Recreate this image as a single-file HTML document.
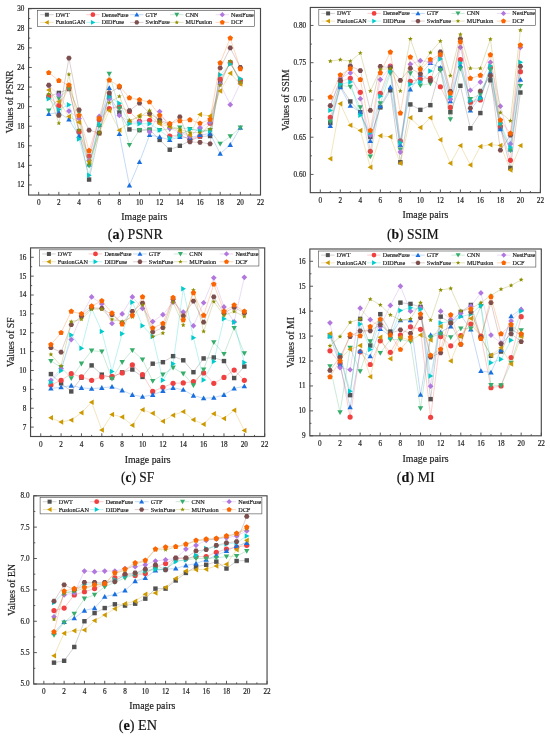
<!DOCTYPE html>
<html><head><meta charset="utf-8"><title>Figure</title>
<style>html,body{margin:0;padding:0;background:#fff}svg{display:block}text{font-family:"Liberation Serif", serif;stroke:#222;stroke-width:0.18px}</style>
</head><body>
<svg width="550" height="738" viewBox="0 0 550 738">
<rect width="550" height="738" fill="#fff"/>
<g id="chart-a"><polyline fill="none" stroke="#515151" stroke-width="0.45" stroke-opacity="0.58" points="48.77,96.35 58.85,92.92 68.93,89.01 79.01,131.10 89.10,179.57 99.18,133.06 109.26,95.86 119.34,112.50 129.43,129.44 139.51,130.13 149.59,129.64 159.67,139.92 169.76,149.71 179.84,145.79 189.92,140.89 200.00,136.49 210.09,136.00 220.17,81.67 230.25,62.58 240.33,81.67"/>
<rect x="46.56" y="94.14" width="4.42" height="4.42" fill="#515151"/>
<rect x="56.64" y="90.71" width="4.42" height="4.42" fill="#515151"/>
<rect x="66.72" y="86.80" width="4.42" height="4.42" fill="#515151"/>
<rect x="76.80" y="128.89" width="4.42" height="4.42" fill="#515151"/>
<rect x="86.89" y="177.36" width="4.42" height="4.42" fill="#515151"/>
<rect x="96.97" y="130.85" width="4.42" height="4.42" fill="#515151"/>
<rect x="107.05" y="93.65" width="4.42" height="4.42" fill="#515151"/>
<rect x="117.13" y="110.29" width="4.42" height="4.42" fill="#515151"/>
<rect x="127.22" y="127.23" width="4.42" height="4.42" fill="#515151"/>
<rect x="137.30" y="127.92" width="4.42" height="4.42" fill="#515151"/>
<rect x="147.38" y="127.43" width="4.42" height="4.42" fill="#515151"/>
<rect x="157.46" y="137.71" width="4.42" height="4.42" fill="#515151"/>
<rect x="167.55" y="147.50" width="4.42" height="4.42" fill="#515151"/>
<rect x="177.63" y="143.58" width="4.42" height="4.42" fill="#515151"/>
<rect x="187.71" y="138.68" width="4.42" height="4.42" fill="#515151"/>
<rect x="197.79" y="134.28" width="4.42" height="4.42" fill="#515151"/>
<rect x="207.88" y="133.79" width="4.42" height="4.42" fill="#515151"/>
<rect x="217.96" y="79.46" width="4.42" height="4.42" fill="#515151"/>
<rect x="228.04" y="60.37" width="4.42" height="4.42" fill="#515151"/>
<rect x="238.12" y="79.46" width="4.42" height="4.42" fill="#515151"/>
<polyline fill="none" stroke="#F14040" stroke-width="0.45" stroke-opacity="0.58" points="48.77,96.84 58.85,105.65 68.93,88.03 79.01,132.08 89.10,156.07 99.18,119.85 109.26,108.59 119.34,106.63 129.43,111.52 139.51,121.31 149.59,120.34 159.67,122.29 169.76,136.00 179.84,135.02 189.92,139.43 200.00,136.00 210.09,123.27 220.17,79.22 230.25,62.87 240.33,80.20"/>
<circle cx="48.77" cy="96.84" r="2.60" fill="#F14040"/>
<circle cx="58.85" cy="105.65" r="2.60" fill="#F14040"/>
<circle cx="68.93" cy="88.03" r="2.60" fill="#F14040"/>
<circle cx="79.01" cy="132.08" r="2.60" fill="#F14040"/>
<circle cx="89.10" cy="156.07" r="2.60" fill="#F14040"/>
<circle cx="99.18" cy="119.85" r="2.60" fill="#F14040"/>
<circle cx="109.26" cy="108.59" r="2.60" fill="#F14040"/>
<circle cx="119.34" cy="106.63" r="2.60" fill="#F14040"/>
<circle cx="129.43" cy="111.52" r="2.60" fill="#F14040"/>
<circle cx="139.51" cy="121.31" r="2.60" fill="#F14040"/>
<circle cx="149.59" cy="120.34" r="2.60" fill="#F14040"/>
<circle cx="159.67" cy="122.29" r="2.60" fill="#F14040"/>
<circle cx="169.76" cy="136.00" r="2.60" fill="#F14040"/>
<circle cx="179.84" cy="135.02" r="2.60" fill="#F14040"/>
<circle cx="189.92" cy="139.43" r="2.60" fill="#F14040"/>
<circle cx="200.00" cy="136.00" r="2.60" fill="#F14040"/>
<circle cx="210.09" cy="123.27" r="2.60" fill="#F14040"/>
<circle cx="220.17" cy="79.22" r="2.60" fill="#F14040"/>
<circle cx="230.25" cy="62.87" r="2.60" fill="#F14040"/>
<circle cx="240.33" cy="80.20" r="2.60" fill="#F14040"/>
<polyline fill="none" stroke="#1A6FDF" stroke-width="0.45" stroke-opacity="0.58" points="48.77,113.97 58.85,112.50 68.93,119.36 79.01,136.00 89.10,164.39 99.18,124.74 109.26,88.03 119.34,134.04 129.43,185.44 139.51,161.94 149.59,135.02 159.67,136.98 169.76,139.92 179.84,136.98 189.92,137.96 200.00,135.02 210.09,133.55 220.17,153.62 230.25,144.81 240.33,127.68"/>
<polygon points="48.77,111.24 51.50,116.05 46.04,116.05" fill="#1A6FDF"/>
<polygon points="58.85,109.77 61.58,114.58 56.12,114.58" fill="#1A6FDF"/>
<polygon points="68.93,116.63 71.66,121.44 66.20,121.44" fill="#1A6FDF"/>
<polygon points="79.01,133.27 81.74,138.08 76.28,138.08" fill="#1A6FDF"/>
<polygon points="89.10,161.66 91.83,166.47 86.37,166.47" fill="#1A6FDF"/>
<polygon points="99.18,122.01 101.91,126.82 96.45,126.82" fill="#1A6FDF"/>
<polygon points="109.26,85.30 111.99,90.11 106.53,90.11" fill="#1A6FDF"/>
<polygon points="119.34,131.31 122.07,136.12 116.61,136.12" fill="#1A6FDF"/>
<polygon points="129.43,182.71 132.16,187.52 126.70,187.52" fill="#1A6FDF"/>
<polygon points="139.51,159.21 142.24,164.02 136.78,164.02" fill="#1A6FDF"/>
<polygon points="149.59,132.29 152.32,137.10 146.86,137.10" fill="#1A6FDF"/>
<polygon points="159.67,134.25 162.40,139.06 156.94,139.06" fill="#1A6FDF"/>
<polygon points="169.76,137.19 172.49,142.00 167.03,142.00" fill="#1A6FDF"/>
<polygon points="179.84,134.25 182.57,139.06 177.11,139.06" fill="#1A6FDF"/>
<polygon points="189.92,135.23 192.65,140.04 187.19,140.04" fill="#1A6FDF"/>
<polygon points="200.00,132.29 202.73,137.10 197.27,137.10" fill="#1A6FDF"/>
<polygon points="210.09,130.82 212.82,135.63 207.36,135.63" fill="#1A6FDF"/>
<polygon points="220.17,150.89 222.90,155.70 217.44,155.70" fill="#1A6FDF"/>
<polygon points="230.25,142.08 232.98,146.89 227.52,146.89" fill="#1A6FDF"/>
<polygon points="240.33,124.95 243.06,129.76 237.60,129.76" fill="#1A6FDF"/>
<polyline fill="none" stroke="#37AD6B" stroke-width="0.45" stroke-opacity="0.58" points="48.77,110.55 58.85,98.31 68.93,88.52 79.01,112.50 89.10,165.86 99.18,125.72 109.26,73.74 119.34,108.59 129.43,145.10 139.51,130.13 149.59,130.13 159.67,130.13 169.76,129.15 179.84,127.68 189.92,129.15 200.00,130.13 210.09,130.13 220.17,143.83 230.25,136.39 240.33,127.68"/>
<polygon points="48.77,113.28 51.50,108.47 46.04,108.47" fill="#37AD6B"/>
<polygon points="58.85,101.04 61.58,96.23 56.12,96.23" fill="#37AD6B"/>
<polygon points="68.93,91.25 71.66,86.44 66.20,86.44" fill="#37AD6B"/>
<polygon points="79.01,115.23 81.74,110.42 76.28,110.42" fill="#37AD6B"/>
<polygon points="89.10,168.59 91.83,163.78 86.37,163.78" fill="#37AD6B"/>
<polygon points="99.18,128.45 101.91,123.64 96.45,123.64" fill="#37AD6B"/>
<polygon points="109.26,76.47 111.99,71.66 106.53,71.66" fill="#37AD6B"/>
<polygon points="119.34,111.32 122.07,106.51 116.61,106.51" fill="#37AD6B"/>
<polygon points="129.43,147.83 132.16,143.02 126.70,143.02" fill="#37AD6B"/>
<polygon points="139.51,132.86 142.24,128.05 136.78,128.05" fill="#37AD6B"/>
<polygon points="149.59,132.86 152.32,128.05 146.86,128.05" fill="#37AD6B"/>
<polygon points="159.67,132.86 162.40,128.05 156.94,128.05" fill="#37AD6B"/>
<polygon points="169.76,131.88 172.49,127.07 167.03,127.07" fill="#37AD6B"/>
<polygon points="179.84,130.41 182.57,125.60 177.11,125.60" fill="#37AD6B"/>
<polygon points="189.92,131.88 192.65,127.07 187.19,127.07" fill="#37AD6B"/>
<polygon points="200.00,132.86 202.73,128.05 197.27,128.05" fill="#37AD6B"/>
<polygon points="210.09,132.86 212.82,128.05 207.36,128.05" fill="#37AD6B"/>
<polygon points="220.17,146.56 222.90,141.75 217.44,141.75" fill="#37AD6B"/>
<polygon points="230.25,139.12 232.98,134.31 227.52,134.31" fill="#37AD6B"/>
<polygon points="240.33,130.41 243.06,125.60 237.60,125.60" fill="#37AD6B"/>
<polyline fill="none" stroke="#B177DE" stroke-width="0.45" stroke-opacity="0.58" points="48.77,85.58 58.85,94.88 68.93,111.04 79.01,118.38 89.10,160.47 99.18,116.42 109.26,98.80 119.34,115.44 129.43,121.80 139.51,122.29 149.59,132.08 159.67,111.52 169.76,128.17 179.84,132.57 189.92,136.49 200.00,127.68 210.09,122.29 220.17,84.11 230.25,104.67 240.33,83.13"/>
<polygon points="48.77,82.72 51.63,85.58 48.77,88.44 45.91,85.58" fill="#B177DE"/>
<polygon points="58.85,92.02 61.71,94.88 58.85,97.74 55.99,94.88" fill="#B177DE"/>
<polygon points="68.93,108.18 71.79,111.04 68.93,113.90 66.07,111.04" fill="#B177DE"/>
<polygon points="79.01,115.52 81.87,118.38 79.01,121.24 76.15,118.38" fill="#B177DE"/>
<polygon points="89.10,157.61 91.96,160.47 89.10,163.34 86.24,160.47" fill="#B177DE"/>
<polygon points="99.18,113.56 102.04,116.42 99.18,119.28 96.32,116.42" fill="#B177DE"/>
<polygon points="109.26,95.94 112.12,98.80 109.26,101.66 106.40,98.80" fill="#B177DE"/>
<polygon points="119.34,112.58 122.20,115.44 119.34,118.30 116.48,115.44" fill="#B177DE"/>
<polygon points="129.43,118.94 132.29,121.80 129.43,124.66 126.57,121.80" fill="#B177DE"/>
<polygon points="139.51,119.43 142.37,122.29 139.51,125.15 136.65,122.29" fill="#B177DE"/>
<polygon points="149.59,129.22 152.45,132.08 149.59,134.94 146.73,132.08" fill="#B177DE"/>
<polygon points="159.67,108.66 162.53,111.52 159.67,114.38 156.81,111.52" fill="#B177DE"/>
<polygon points="169.76,125.31 172.62,128.17 169.76,131.03 166.90,128.17" fill="#B177DE"/>
<polygon points="179.84,129.71 182.70,132.57 179.84,135.43 176.98,132.57" fill="#B177DE"/>
<polygon points="189.92,133.63 192.78,136.49 189.92,139.35 187.06,136.49" fill="#B177DE"/>
<polygon points="200.00,124.82 202.86,127.68 200.00,130.54 197.14,127.68" fill="#B177DE"/>
<polygon points="210.09,119.43 212.95,122.29 210.09,125.15 207.23,122.29" fill="#B177DE"/>
<polygon points="220.17,81.25 223.03,84.11 220.17,86.97 217.31,84.11" fill="#B177DE"/>
<polygon points="230.25,101.81 233.11,104.67 230.25,107.53 227.39,104.67" fill="#B177DE"/>
<polygon points="240.33,80.27 243.19,83.13 240.33,85.99 237.47,83.13" fill="#B177DE"/>
<polyline fill="none" stroke="#CC9900" stroke-width="0.45" stroke-opacity="0.58" points="48.77,89.99 58.85,101.73 68.93,116.42 79.01,122.29 89.10,161.45 99.18,133.06 109.26,110.55 119.34,130.13 129.43,122.29 139.51,115.44 149.59,115.44 159.67,123.76 169.76,126.70 179.84,131.10 189.92,135.02 200.00,114.46 210.09,115.93 220.17,90.97 230.25,73.34 240.33,84.11"/>
<polygon points="46.04,89.99 50.85,87.26 50.85,92.72" fill="#CC9900"/>
<polygon points="56.12,101.73 60.93,99.00 60.93,104.47" fill="#CC9900"/>
<polygon points="66.20,116.42 71.01,113.69 71.01,119.15" fill="#CC9900"/>
<polygon points="76.28,122.29 81.09,119.56 81.09,125.02" fill="#CC9900"/>
<polygon points="86.37,161.45 91.18,158.72 91.18,164.18" fill="#CC9900"/>
<polygon points="96.45,133.06 101.26,130.33 101.26,135.79" fill="#CC9900"/>
<polygon points="106.53,110.55 111.34,107.82 111.34,113.28" fill="#CC9900"/>
<polygon points="116.61,130.13 121.42,127.40 121.42,132.86" fill="#CC9900"/>
<polygon points="126.70,122.29 131.51,119.56 131.51,125.02" fill="#CC9900"/>
<polygon points="136.78,115.44 141.59,112.71 141.59,118.17" fill="#CC9900"/>
<polygon points="146.86,115.44 151.67,112.71 151.67,118.17" fill="#CC9900"/>
<polygon points="156.94,123.76 161.75,121.03 161.75,126.49" fill="#CC9900"/>
<polygon points="167.03,126.70 171.84,123.97 171.84,129.43" fill="#CC9900"/>
<polygon points="177.11,131.10 181.92,128.38 181.92,133.83" fill="#CC9900"/>
<polygon points="187.19,135.02 192.00,132.29 192.00,137.75" fill="#CC9900"/>
<polygon points="197.27,114.46 202.08,111.73 202.08,117.19" fill="#CC9900"/>
<polygon points="207.36,115.93 212.17,113.20 212.17,118.66" fill="#CC9900"/>
<polygon points="217.44,90.97 222.25,88.24 222.25,93.70" fill="#CC9900"/>
<polygon points="227.52,73.34 232.33,70.61 232.33,76.07" fill="#CC9900"/>
<polygon points="237.60,84.11 242.41,81.38 242.41,86.84" fill="#CC9900"/>
<polyline fill="none" stroke="#00CBCC" stroke-width="0.45" stroke-opacity="0.58" points="48.77,98.80 58.85,109.57 68.93,104.67 79.01,138.94 89.10,175.16 99.18,124.25 109.26,96.84 119.34,103.20 129.43,123.76 139.51,123.76 149.59,123.76 159.67,130.13 169.76,137.96 179.84,135.51 189.92,129.15 200.00,131.10 210.09,131.10 220.17,74.81 230.25,64.04 240.33,78.73"/>
<polygon points="51.50,98.80 46.69,96.07 46.69,101.53" fill="#00CBCC"/>
<polygon points="61.58,109.57 56.77,106.84 56.77,112.30" fill="#00CBCC"/>
<polygon points="71.66,104.67 66.85,101.94 66.85,107.40" fill="#00CBCC"/>
<polygon points="81.74,138.94 76.93,136.21 76.93,141.67" fill="#00CBCC"/>
<polygon points="91.83,175.16 87.02,172.43 87.02,177.89" fill="#00CBCC"/>
<polygon points="101.91,124.25 97.10,121.52 97.10,126.98" fill="#00CBCC"/>
<polygon points="111.99,96.84 107.18,94.11 107.18,99.57" fill="#00CBCC"/>
<polygon points="122.07,103.20 117.26,100.47 117.26,105.93" fill="#00CBCC"/>
<polygon points="132.16,123.76 127.35,121.03 127.35,126.49" fill="#00CBCC"/>
<polygon points="142.24,123.76 137.43,121.03 137.43,126.49" fill="#00CBCC"/>
<polygon points="152.32,123.76 147.51,121.03 147.51,126.49" fill="#00CBCC"/>
<polygon points="162.40,130.13 157.59,127.40 157.59,132.86" fill="#00CBCC"/>
<polygon points="172.49,137.96 167.68,135.23 167.68,140.69" fill="#00CBCC"/>
<polygon points="182.57,135.51 177.76,132.78 177.76,138.24" fill="#00CBCC"/>
<polygon points="192.65,129.15 187.84,126.42 187.84,131.88" fill="#00CBCC"/>
<polygon points="202.73,131.10 197.92,128.38 197.92,133.83" fill="#00CBCC"/>
<polygon points="212.82,131.10 208.01,128.38 208.01,133.83" fill="#00CBCC"/>
<polygon points="222.90,74.81 218.09,72.08 218.09,77.54" fill="#00CBCC"/>
<polygon points="232.98,64.04 228.17,61.31 228.17,66.77" fill="#00CBCC"/>
<polygon points="243.06,78.73 238.25,76.00 238.25,81.46" fill="#00CBCC"/>
<polyline fill="none" stroke="#7D4E4E" stroke-width="0.45" stroke-opacity="0.58" points="48.77,85.19 58.85,115.44 68.93,58.07 79.01,109.86 89.10,130.13 99.18,133.06 109.26,92.92 119.34,87.05 129.43,110.55 139.51,103.20 149.59,113.48 159.67,119.85 169.76,124.25 179.84,116.91 189.92,141.87 200.00,142.36 210.09,143.83 220.17,67.96 230.25,47.89 240.33,67.47"/>
<polygon points="51.50,85.19 50.13,87.55 47.40,87.55 46.04,85.19 47.40,82.83 50.13,82.83" fill="#7D4E4E"/>
<polygon points="61.58,115.44 60.21,117.81 57.48,117.81 56.12,115.44 57.48,113.08 60.21,113.08" fill="#7D4E4E"/>
<polygon points="71.66,58.07 70.30,60.44 67.57,60.44 66.20,58.07 67.57,55.71 70.30,55.71" fill="#7D4E4E"/>
<polygon points="81.74,109.86 80.38,112.22 77.65,112.22 76.28,109.86 77.65,107.50 80.38,107.50" fill="#7D4E4E"/>
<polygon points="91.83,130.13 90.46,132.49 87.73,132.49 86.37,130.13 87.73,127.76 90.46,127.76" fill="#7D4E4E"/>
<polygon points="101.91,133.06 100.54,135.43 97.81,135.43 96.45,133.06 97.81,130.70 100.54,130.70" fill="#7D4E4E"/>
<polygon points="111.99,92.92 110.63,95.29 107.90,95.29 106.53,92.92 107.90,90.56 110.63,90.56" fill="#7D4E4E"/>
<polygon points="122.07,87.05 120.71,89.41 117.98,89.41 116.61,87.05 117.98,84.69 120.71,84.69" fill="#7D4E4E"/>
<polygon points="132.16,110.55 130.79,112.91 128.06,112.91 126.70,110.55 128.06,108.18 130.79,108.18" fill="#7D4E4E"/>
<polygon points="142.24,103.20 140.87,105.57 138.14,105.57 136.78,103.20 138.14,100.84 140.87,100.84" fill="#7D4E4E"/>
<polygon points="152.32,113.48 150.96,115.85 148.23,115.85 146.86,113.48 148.23,111.12 150.96,111.12" fill="#7D4E4E"/>
<polygon points="162.40,119.85 161.04,122.21 158.31,122.21 156.94,119.85 158.31,117.48 161.04,117.48" fill="#7D4E4E"/>
<polygon points="172.49,124.25 171.12,126.62 168.39,126.62 167.03,124.25 168.39,121.89 171.12,121.89" fill="#7D4E4E"/>
<polygon points="182.57,116.91 181.20,119.27 178.47,119.27 177.11,116.91 178.47,114.55 181.20,114.55" fill="#7D4E4E"/>
<polygon points="192.65,141.87 191.29,144.24 188.56,144.24 187.19,141.87 188.56,139.51 191.29,139.51" fill="#7D4E4E"/>
<polygon points="202.73,142.36 201.37,144.73 198.64,144.73 197.27,142.36 198.64,140.00 201.37,140.00" fill="#7D4E4E"/>
<polygon points="212.82,143.83 211.45,146.20 208.72,146.20 207.36,143.83 208.72,141.47 211.45,141.47" fill="#7D4E4E"/>
<polygon points="222.90,67.96 221.53,70.32 218.80,70.32 217.44,67.96 218.80,65.60 221.53,65.60" fill="#7D4E4E"/>
<polygon points="232.98,47.89 231.62,50.25 228.89,50.25 227.52,47.89 228.89,45.53 231.62,45.53" fill="#7D4E4E"/>
<polygon points="243.06,67.47 241.70,69.83 238.97,69.83 237.60,67.47 238.97,65.11 241.70,65.11" fill="#7D4E4E"/>
<polyline fill="none" stroke="#8E8E00" stroke-width="0.45" stroke-opacity="0.58" points="48.77,93.90 58.85,123.27 68.93,74.32 79.01,130.13 89.10,163.41 99.18,132.57 109.26,102.71 119.34,96.35 129.43,120.34 139.51,116.91 149.59,110.55 159.67,121.31 169.76,125.72 179.84,129.44 189.92,132.57 200.00,132.57 210.09,129.15 220.17,85.09 230.25,61.11 240.33,82.16"/>
<polygon points="48.77,91.43 49.41,93.02 51.11,93.14 49.80,94.24 50.22,95.90 48.77,94.99 47.31,95.90 47.73,94.24 46.42,93.14 48.12,93.02" fill="#8E8E00"/>
<polygon points="58.85,120.80 59.49,122.39 61.20,122.51 59.89,123.61 60.30,125.27 58.85,124.36 57.40,125.27 57.81,123.61 56.50,122.51 58.21,122.39" fill="#8E8E00"/>
<polygon points="68.93,71.85 69.57,73.44 71.28,73.56 69.97,74.66 70.38,76.32 68.93,75.41 67.48,76.32 67.89,74.66 66.58,73.56 68.29,73.44" fill="#8E8E00"/>
<polygon points="79.01,127.66 79.65,129.24 81.36,129.36 80.05,130.46 80.46,132.12 79.01,131.22 77.56,132.12 77.97,130.46 76.66,129.36 78.37,129.24" fill="#8E8E00"/>
<polygon points="89.10,160.94 89.74,162.53 91.44,162.65 90.13,163.75 90.55,165.41 89.10,164.50 87.64,165.41 88.06,163.75 86.75,162.65 88.45,162.53" fill="#8E8E00"/>
<polygon points="99.18,130.10 99.82,131.69 101.53,131.81 100.22,132.91 100.63,134.57 99.18,133.67 97.73,134.57 98.14,132.91 96.83,131.81 98.54,131.69" fill="#8E8E00"/>
<polygon points="109.26,100.24 109.90,101.83 111.61,101.95 110.30,103.05 110.71,104.71 109.26,103.81 107.81,104.71 108.22,103.05 106.91,101.95 108.62,101.83" fill="#8E8E00"/>
<polygon points="119.34,93.88 119.99,95.47 121.69,95.59 120.38,96.69 120.80,98.35 119.34,97.44 117.89,98.35 118.30,96.69 116.99,95.59 118.70,95.47" fill="#8E8E00"/>
<polygon points="129.43,117.87 130.07,119.45 131.78,119.57 130.46,120.67 130.88,122.33 129.43,121.43 127.97,122.33 128.39,120.67 127.08,119.57 128.78,119.45" fill="#8E8E00"/>
<polygon points="139.51,114.44 140.15,116.03 141.86,116.15 140.55,117.25 140.96,118.91 139.51,118.00 138.06,118.91 138.47,117.25 137.16,116.15 138.87,116.03" fill="#8E8E00"/>
<polygon points="149.59,108.08 150.23,109.66 151.94,109.78 150.63,110.88 151.04,112.54 149.59,111.64 148.14,112.54 148.55,110.88 147.24,109.78 148.95,109.66" fill="#8E8E00"/>
<polygon points="159.67,118.84 160.32,120.43 162.02,120.55 160.71,121.65 161.13,123.31 159.67,122.41 158.22,123.31 158.64,121.65 157.32,120.55 159.03,120.43" fill="#8E8E00"/>
<polygon points="169.76,123.25 170.40,124.84 172.11,124.96 170.80,126.06 171.21,127.72 169.76,126.81 168.30,127.72 168.72,126.06 167.41,124.96 169.11,124.84" fill="#8E8E00"/>
<polygon points="179.84,126.97 180.48,128.56 182.19,128.68 180.88,129.78 181.29,131.44 179.84,130.53 178.39,131.44 178.80,129.78 177.49,128.68 179.20,128.56" fill="#8E8E00"/>
<polygon points="189.92,130.10 190.56,131.69 192.27,131.81 190.96,132.91 191.37,134.57 189.92,133.67 188.47,134.57 188.88,132.91 187.57,131.81 189.28,131.69" fill="#8E8E00"/>
<polygon points="200.00,130.10 200.65,131.69 202.35,131.81 201.04,132.91 201.46,134.57 200.00,133.67 198.55,134.57 198.97,132.91 197.66,131.81 199.36,131.69" fill="#8E8E00"/>
<polygon points="210.09,126.68 210.73,128.26 212.44,128.38 211.13,129.48 211.54,131.15 210.09,130.24 208.64,131.15 209.05,129.48 207.74,128.38 209.45,128.26" fill="#8E8E00"/>
<polygon points="220.17,82.62 220.81,84.21 222.52,84.33 221.21,85.43 221.62,87.09 220.17,86.18 218.72,87.09 219.13,85.43 217.82,84.33 219.53,84.21" fill="#8E8E00"/>
<polygon points="230.25,58.64 230.89,60.22 232.60,60.34 231.29,61.44 231.70,63.10 230.25,62.20 228.80,63.10 229.21,61.44 227.90,60.34 229.61,60.22" fill="#8E8E00"/>
<polygon points="240.33,79.69 240.98,81.27 242.68,81.39 241.37,82.49 241.79,84.15 240.33,83.25 238.88,84.15 239.30,82.49 237.99,81.39 239.69,81.27" fill="#8E8E00"/>
<polyline fill="none" stroke="#FB6501" stroke-width="0.45" stroke-opacity="0.58" points="48.77,72.76 58.85,80.59 68.93,85.09 79.01,115.44 89.10,150.69 99.18,118.38 109.26,80.20 119.34,86.07 129.43,97.82 139.51,99.78 149.59,102.03 159.67,115.44 169.76,123.66 179.84,120.83 189.92,119.85 200.00,123.27 210.09,119.36 220.17,62.87 230.25,38.10 240.33,68.94"/>
<polygon points="48.77,69.90 51.49,71.87 50.45,75.07 47.08,75.07 46.05,71.87" fill="#FB6501"/>
<polygon points="58.85,77.73 61.57,79.70 60.53,82.90 57.17,82.90 56.13,79.70" fill="#FB6501"/>
<polygon points="68.93,82.23 71.65,84.21 70.61,87.41 67.25,87.41 66.21,84.21" fill="#FB6501"/>
<polygon points="79.01,112.58 81.73,114.56 80.69,117.75 77.33,117.75 76.29,114.56" fill="#FB6501"/>
<polygon points="89.10,147.82 91.82,149.80 90.78,153.00 87.41,153.00 86.38,149.80" fill="#FB6501"/>
<polygon points="99.18,115.52 101.90,117.49 100.86,120.69 97.50,120.69 96.46,117.49" fill="#FB6501"/>
<polygon points="109.26,77.34 111.98,79.31 110.94,82.51 107.58,82.51 106.54,79.31" fill="#FB6501"/>
<polygon points="119.34,83.21 122.06,85.19 121.02,88.38 117.66,88.38 116.62,85.19" fill="#FB6501"/>
<polygon points="129.43,94.96 132.15,96.94 131.11,100.13 127.75,100.13 126.71,96.94" fill="#FB6501"/>
<polygon points="139.51,96.92 142.23,98.89 141.19,102.09 137.83,102.09 136.79,98.89" fill="#FB6501"/>
<polygon points="149.59,99.17 152.31,101.14 151.27,104.34 147.91,104.34 146.87,101.14" fill="#FB6501"/>
<polygon points="159.67,112.58 162.39,114.56 161.35,117.75 157.99,117.75 156.95,114.56" fill="#FB6501"/>
<polygon points="169.76,120.80 172.48,122.78 171.44,125.98 168.08,125.98 167.04,122.78" fill="#FB6501"/>
<polygon points="179.84,117.97 182.56,119.94 181.52,123.14 178.16,123.14 177.12,119.94" fill="#FB6501"/>
<polygon points="189.92,116.99 192.64,118.96 191.60,122.16 188.24,122.16 187.20,118.96" fill="#FB6501"/>
<polygon points="200.00,120.41 202.72,122.39 201.69,125.59 198.32,125.59 197.28,122.39" fill="#FB6501"/>
<polygon points="210.09,116.50 212.81,118.47 211.77,121.67 208.41,121.67 207.37,118.47" fill="#FB6501"/>
<polygon points="220.17,60.01 222.89,61.98 221.85,65.18 218.49,65.18 217.45,61.98" fill="#FB6501"/>
<polygon points="230.25,35.24 232.97,37.22 231.93,40.41 228.57,40.41 227.53,37.22" fill="#FB6501"/>
<polygon points="240.33,66.08 243.05,68.05 242.02,71.25 238.65,71.25 237.61,68.05" fill="#FB6501"/>
<rect x="28.60" y="8.50" width="231.90" height="186.55" fill="none" stroke="#484848" stroke-width="1.15"/>
<path d="M38.68 195.05V191.85M58.85 195.05V191.85M79.01 195.05V191.85M99.18 195.05V191.85M119.34 195.05V191.85M139.51 195.05V191.85M159.67 195.05V191.85M179.84 195.05V191.85M200.00 195.05V191.85M220.17 195.05V191.85M240.33 195.05V191.85M260.50 195.05V191.85M48.77 195.05V193.45M68.93 195.05V193.45M89.10 195.05V193.45M109.26 195.05V193.45M129.43 195.05V193.45M149.59 195.05V193.45M169.76 195.05V193.45M189.92 195.05V193.45M210.09 195.05V193.45M230.25 195.05V193.45M250.42 195.05V193.45M28.60 184.95H31.80M28.60 165.37H31.80M28.60 145.79H31.80M28.60 126.21H31.80M28.60 106.63H31.80M28.60 87.05H31.80M28.60 67.47H31.80M28.60 47.89H31.80M28.60 28.31H31.80M28.60 8.73H31.80M28.60 175.16H30.20M28.60 155.58H30.20M28.60 136.00H30.20M28.60 116.42H30.20M28.60 96.84H30.20M28.60 77.26H30.20M28.60 57.68H30.20M28.60 38.10H30.20M28.60 18.52H30.20" stroke="#484848" stroke-width="0.9" fill="none"/>
<text x="38.68" y="205.05" text-anchor="middle" font-size="7.2" stroke-width="0.05" fill="#1a1a1a">0</text>
<text x="58.85" y="205.05" text-anchor="middle" font-size="7.2" stroke-width="0.05" fill="#1a1a1a">2</text>
<text x="79.01" y="205.05" text-anchor="middle" font-size="7.2" stroke-width="0.05" fill="#1a1a1a">4</text>
<text x="99.18" y="205.05" text-anchor="middle" font-size="7.2" stroke-width="0.05" fill="#1a1a1a">6</text>
<text x="119.34" y="205.05" text-anchor="middle" font-size="7.2" stroke-width="0.05" fill="#1a1a1a">8</text>
<text x="139.51" y="205.05" text-anchor="middle" font-size="7.2" stroke-width="0.05" fill="#1a1a1a">10</text>
<text x="159.67" y="205.05" text-anchor="middle" font-size="7.2" stroke-width="0.05" fill="#1a1a1a">12</text>
<text x="179.84" y="205.05" text-anchor="middle" font-size="7.2" stroke-width="0.05" fill="#1a1a1a">14</text>
<text x="200.00" y="205.05" text-anchor="middle" font-size="7.2" stroke-width="0.05" fill="#1a1a1a">16</text>
<text x="220.17" y="205.05" text-anchor="middle" font-size="7.2" stroke-width="0.05" fill="#1a1a1a">18</text>
<text x="240.33" y="205.05" text-anchor="middle" font-size="7.2" stroke-width="0.05" fill="#1a1a1a">20</text>
<text x="260.50" y="205.05" text-anchor="middle" font-size="7.2" stroke-width="0.05" fill="#1a1a1a">22</text>
<text x="24.40" y="187.40" text-anchor="end" font-size="7.2" stroke-width="0.05" fill="#1a1a1a">12</text>
<text x="24.40" y="167.82" text-anchor="end" font-size="7.2" stroke-width="0.05" fill="#1a1a1a">14</text>
<text x="24.40" y="148.24" text-anchor="end" font-size="7.2" stroke-width="0.05" fill="#1a1a1a">16</text>
<text x="24.40" y="128.66" text-anchor="end" font-size="7.2" stroke-width="0.05" fill="#1a1a1a">18</text>
<text x="24.40" y="109.08" text-anchor="end" font-size="7.2" stroke-width="0.05" fill="#1a1a1a">20</text>
<text x="24.40" y="89.50" text-anchor="end" font-size="7.2" stroke-width="0.05" fill="#1a1a1a">22</text>
<text x="24.40" y="69.92" text-anchor="end" font-size="7.2" stroke-width="0.05" fill="#1a1a1a">24</text>
<text x="24.40" y="50.34" text-anchor="end" font-size="7.2" stroke-width="0.05" fill="#1a1a1a">26</text>
<text x="24.40" y="30.76" text-anchor="end" font-size="7.2" stroke-width="0.05" fill="#1a1a1a">28</text>
<text x="24.40" y="11.18" text-anchor="end" font-size="7.2" stroke-width="0.05" fill="#1a1a1a">30</text>
<text x="144.25" y="220.35" text-anchor="middle" font-size="9.8" fill="#1a1a1a">Image pairs</text>
<text transform="translate(12.90 101.78) rotate(-90)" text-anchor="middle" font-size="9.7" fill="#1a1a1a">Values of PSNR</text>
<rect x="37.60" y="10.60" width="216.70" height="16.00" fill="#fff" stroke="#484848" stroke-width="0.6"/>
<line x1="40.20" y1="14.70" x2="53.60" y2="14.70" stroke="#515151" stroke-width="0.45" stroke-opacity="0.58"/>
<rect x="44.90" y="12.70" width="4.00" height="4.00" fill="#515151"/>
<text x="55.70" y="16.75" font-size="6.10" fill="#1a1a1a">DWT</text>
<line x1="86.20" y1="14.70" x2="99.60" y2="14.70" stroke="#F14040" stroke-width="0.45" stroke-opacity="0.58"/>
<circle cx="92.90" cy="14.70" r="2.35" fill="#F14040"/>
<text x="101.70" y="16.75" font-size="6.10" fill="#1a1a1a">DenseFuse</text>
<line x1="130.10" y1="14.70" x2="143.50" y2="14.70" stroke="#1A6FDF" stroke-width="0.45" stroke-opacity="0.58"/>
<polygon points="136.80,12.23 139.27,16.58 134.33,16.58" fill="#1A6FDF"/>
<text x="145.60" y="16.75" font-size="6.10" fill="#1a1a1a">GTF</text>
<line x1="170.10" y1="14.70" x2="183.50" y2="14.70" stroke="#37AD6B" stroke-width="0.45" stroke-opacity="0.58"/>
<polygon points="176.80,17.17 179.27,12.82 174.33,12.82" fill="#37AD6B"/>
<text x="185.60" y="16.75" font-size="6.10" fill="#1a1a1a">CNN</text>
<line x1="215.60" y1="14.70" x2="229.00" y2="14.70" stroke="#B177DE" stroke-width="0.45" stroke-opacity="0.58"/>
<polygon points="222.30,12.11 224.88,14.70 222.30,17.29 219.71,14.70" fill="#B177DE"/>
<text x="231.10" y="16.75" font-size="6.10" fill="#1a1a1a">NestFuse</text>
<line x1="40.20" y1="22.40" x2="53.60" y2="22.40" stroke="#CC9900" stroke-width="0.45" stroke-opacity="0.58"/>
<polygon points="44.43,22.40 48.78,19.93 48.78,24.87" fill="#CC9900"/>
<text x="55.70" y="24.45" font-size="6.10" fill="#1a1a1a">FusionGAN</text>
<line x1="86.20" y1="22.40" x2="99.60" y2="22.40" stroke="#00CBCC" stroke-width="0.45" stroke-opacity="0.58"/>
<polygon points="95.37,22.40 91.02,19.93 91.02,24.87" fill="#00CBCC"/>
<text x="101.70" y="24.45" font-size="6.10" fill="#1a1a1a">DIDFuse</text>
<line x1="130.10" y1="22.40" x2="143.50" y2="22.40" stroke="#7D4E4E" stroke-width="0.45" stroke-opacity="0.58"/>
<polygon points="139.27,22.40 138.03,24.54 135.57,24.54 134.33,22.40 135.57,20.26 138.03,20.26" fill="#7D4E4E"/>
<text x="145.60" y="24.45" font-size="6.10" fill="#1a1a1a">SwinFuse</text>
<line x1="170.10" y1="22.40" x2="183.50" y2="22.40" stroke="#8E8E00" stroke-width="0.45" stroke-opacity="0.58"/>
<polygon points="176.80,20.17 177.38,21.60 178.92,21.71 177.74,22.70 178.11,24.21 176.80,23.39 175.49,24.21 175.86,22.70 174.68,21.71 176.22,21.60" fill="#8E8E00"/>
<text x="185.60" y="24.45" font-size="6.10" fill="#1a1a1a">MUFusion</text>
<line x1="215.60" y1="22.40" x2="229.00" y2="22.40" stroke="#FB6501" stroke-width="0.45" stroke-opacity="0.58"/>
<polygon points="222.30,19.81 224.76,21.60 223.82,24.49 220.78,24.49 219.84,21.60" fill="#FB6501"/>
<text x="231.10" y="24.45" font-size="6.10" fill="#1a1a1a">DCF</text>
<text x="107.70" y="239.00" font-size="14.3" fill="#111" stroke-width="0.1" textLength="55.1" lengthAdjust="spacingAndGlyphs">(<tspan font-weight="bold">a</tspan>) PSNR</text></g>
<g id="chart-b"><polyline fill="none" stroke="#515151" stroke-width="0.45" stroke-opacity="0.58" points="330.31,123.04 340.31,86.02 350.32,101.44 360.32,112.17 370.33,136.83 380.33,107.40 390.33,90.27 400.34,162.23 410.34,104.42 420.35,109.86 430.35,105.17 440.36,68.66 450.36,112.17 460.37,85.79 470.37,128.26 480.37,113.06 490.38,80.28 500.38,127.51 510.39,167.97 520.39,92.50"/>
<rect x="328.10" y="120.83" width="4.42" height="4.42" fill="#515151"/>
<rect x="338.10" y="83.81" width="4.42" height="4.42" fill="#515151"/>
<rect x="348.11" y="99.23" width="4.42" height="4.42" fill="#515151"/>
<rect x="358.11" y="109.96" width="4.42" height="4.42" fill="#515151"/>
<rect x="368.12" y="134.62" width="4.42" height="4.42" fill="#515151"/>
<rect x="378.12" y="105.19" width="4.42" height="4.42" fill="#515151"/>
<rect x="388.12" y="88.06" width="4.42" height="4.42" fill="#515151"/>
<rect x="398.13" y="160.02" width="4.42" height="4.42" fill="#515151"/>
<rect x="408.13" y="102.21" width="4.42" height="4.42" fill="#515151"/>
<rect x="418.14" y="107.65" width="4.42" height="4.42" fill="#515151"/>
<rect x="428.14" y="102.96" width="4.42" height="4.42" fill="#515151"/>
<rect x="438.15" y="66.45" width="4.42" height="4.42" fill="#515151"/>
<rect x="448.15" y="109.96" width="4.42" height="4.42" fill="#515151"/>
<rect x="458.16" y="83.58" width="4.42" height="4.42" fill="#515151"/>
<rect x="468.16" y="126.05" width="4.42" height="4.42" fill="#515151"/>
<rect x="478.16" y="110.85" width="4.42" height="4.42" fill="#515151"/>
<rect x="488.17" y="78.07" width="4.42" height="4.42" fill="#515151"/>
<rect x="498.17" y="125.30" width="4.42" height="4.42" fill="#515151"/>
<rect x="508.18" y="165.76" width="4.42" height="4.42" fill="#515151"/>
<rect x="518.18" y="90.29" width="4.42" height="4.42" fill="#515151"/>
<polyline fill="none" stroke="#F14040" stroke-width="0.45" stroke-opacity="0.58" points="330.31,117.23 340.31,81.32 350.32,78.34 360.32,92.28 370.33,151.35 380.33,93.47 390.33,65.98 400.34,140.92 410.34,81.32 420.35,79.09 430.35,78.34 440.36,86.76 450.36,107.40 460.37,59.72 470.37,102.19 480.37,99.95 490.38,67.62 500.38,126.47 510.39,160.29 520.39,71.64"/>
<circle cx="330.31" cy="117.23" r="2.60" fill="#F14040"/>
<circle cx="340.31" cy="81.32" r="2.60" fill="#F14040"/>
<circle cx="350.32" cy="78.34" r="2.60" fill="#F14040"/>
<circle cx="360.32" cy="92.28" r="2.60" fill="#F14040"/>
<circle cx="370.33" cy="151.35" r="2.60" fill="#F14040"/>
<circle cx="380.33" cy="93.47" r="2.60" fill="#F14040"/>
<circle cx="390.33" cy="65.98" r="2.60" fill="#F14040"/>
<circle cx="400.34" cy="140.92" r="2.60" fill="#F14040"/>
<circle cx="410.34" cy="81.32" r="2.60" fill="#F14040"/>
<circle cx="420.35" cy="79.09" r="2.60" fill="#F14040"/>
<circle cx="430.35" cy="78.34" r="2.60" fill="#F14040"/>
<circle cx="440.36" cy="86.76" r="2.60" fill="#F14040"/>
<circle cx="450.36" cy="107.40" r="2.60" fill="#F14040"/>
<circle cx="460.37" cy="59.72" r="2.60" fill="#F14040"/>
<circle cx="470.37" cy="102.19" r="2.60" fill="#F14040"/>
<circle cx="480.37" cy="99.95" r="2.60" fill="#F14040"/>
<circle cx="490.38" cy="67.62" r="2.60" fill="#F14040"/>
<circle cx="500.38" cy="126.47" r="2.60" fill="#F14040"/>
<circle cx="510.39" cy="160.29" r="2.60" fill="#F14040"/>
<circle cx="520.39" cy="71.64" r="2.60" fill="#F14040"/>
<polyline fill="none" stroke="#1A6FDF" stroke-width="0.45" stroke-opacity="0.58" points="330.31,126.02 340.31,87.28 350.32,105.69 360.32,112.17 370.33,140.92 380.33,106.13 390.33,87.28 400.34,144.95 410.34,89.52 420.35,74.62 430.35,63.00 440.36,67.62 450.36,101.07 460.37,65.31 470.37,110.38 480.37,96.45 490.38,72.38 500.38,129.23 510.39,149.49 520.39,79.61"/>
<polygon points="330.31,123.29 333.04,128.10 327.58,128.10" fill="#1A6FDF"/>
<polygon points="340.31,84.55 343.04,89.36 337.58,89.36" fill="#1A6FDF"/>
<polygon points="350.32,102.96 353.05,107.77 347.59,107.77" fill="#1A6FDF"/>
<polygon points="360.32,109.44 363.05,114.25 357.59,114.25" fill="#1A6FDF"/>
<polygon points="370.33,138.19 373.06,143.00 367.60,143.00" fill="#1A6FDF"/>
<polygon points="380.33,103.40 383.06,108.21 377.60,108.21" fill="#1A6FDF"/>
<polygon points="390.33,84.55 393.06,89.36 387.60,89.36" fill="#1A6FDF"/>
<polygon points="400.34,142.22 403.07,147.03 397.61,147.03" fill="#1A6FDF"/>
<polygon points="410.34,86.79 413.07,91.60 407.61,91.60" fill="#1A6FDF"/>
<polygon points="420.35,71.89 423.08,76.70 417.62,76.70" fill="#1A6FDF"/>
<polygon points="430.35,60.27 433.08,65.08 427.62,65.08" fill="#1A6FDF"/>
<polygon points="440.36,64.89 443.09,69.70 437.63,69.70" fill="#1A6FDF"/>
<polygon points="450.36,98.34 453.09,103.15 447.63,103.15" fill="#1A6FDF"/>
<polygon points="460.37,62.58 463.10,67.39 457.64,67.39" fill="#1A6FDF"/>
<polygon points="470.37,107.65 473.10,112.46 467.64,112.46" fill="#1A6FDF"/>
<polygon points="480.37,93.72 483.10,98.53 477.64,98.53" fill="#1A6FDF"/>
<polygon points="490.38,69.65 493.11,74.46 487.65,74.46" fill="#1A6FDF"/>
<polygon points="500.38,126.50 503.11,131.31 497.65,131.31" fill="#1A6FDF"/>
<polygon points="510.39,146.76 513.12,151.57 507.66,151.57" fill="#1A6FDF"/>
<polygon points="520.39,76.88 523.12,81.69 517.66,81.69" fill="#1A6FDF"/>
<polyline fill="none" stroke="#37AD6B" stroke-width="0.45" stroke-opacity="0.58" points="330.31,121.55 340.31,85.35 350.32,86.76 360.32,107.40 370.33,156.57 380.33,103.38 390.33,73.35 400.34,149.49 410.34,73.35 420.35,85.57 430.35,83.56 440.36,70.15 450.36,119.32 460.37,68.66 470.37,99.20 480.37,94.14 490.38,70.15 500.38,124.53 510.39,150.61 520.39,86.02"/>
<polygon points="330.31,124.28 333.04,119.47 327.58,119.47" fill="#37AD6B"/>
<polygon points="340.31,88.08 343.04,83.27 337.58,83.27" fill="#37AD6B"/>
<polygon points="350.32,89.49 353.05,84.68 347.59,84.68" fill="#37AD6B"/>
<polygon points="360.32,110.13 363.05,105.32 357.59,105.32" fill="#37AD6B"/>
<polygon points="370.33,159.30 373.06,154.49 367.60,154.49" fill="#37AD6B"/>
<polygon points="380.33,106.11 383.06,101.30 377.60,101.30" fill="#37AD6B"/>
<polygon points="390.33,76.08 393.06,71.27 387.60,71.27" fill="#37AD6B"/>
<polygon points="400.34,152.22 403.07,147.41 397.61,147.41" fill="#37AD6B"/>
<polygon points="410.34,76.08 413.07,71.27 407.61,71.27" fill="#37AD6B"/>
<polygon points="420.35,88.30 423.08,83.49 417.62,83.49" fill="#37AD6B"/>
<polygon points="430.35,86.29 433.08,81.48 427.62,81.48" fill="#37AD6B"/>
<polygon points="440.36,72.88 443.09,68.07 437.63,68.07" fill="#37AD6B"/>
<polygon points="450.36,122.05 453.09,117.24 447.63,117.24" fill="#37AD6B"/>
<polygon points="460.37,71.39 463.10,66.58 457.64,66.58" fill="#37AD6B"/>
<polygon points="470.37,101.94 473.10,97.12 467.64,97.12" fill="#37AD6B"/>
<polygon points="480.37,96.87 483.10,92.06 477.64,92.06" fill="#37AD6B"/>
<polygon points="490.38,72.88 493.11,68.07 487.65,68.07" fill="#37AD6B"/>
<polygon points="500.38,127.26 503.11,122.45 497.65,122.45" fill="#37AD6B"/>
<polygon points="510.39,153.34 513.12,148.53 507.66,148.53" fill="#37AD6B"/>
<polygon points="520.39,88.75 523.12,83.94 517.66,83.94" fill="#37AD6B"/>
<polyline fill="none" stroke="#B177DE" stroke-width="0.45" stroke-opacity="0.58" points="330.31,105.91 340.31,78.34 350.32,72.91 360.32,98.76 370.33,135.19 380.33,79.61 390.33,66.87 400.34,152.10 410.34,64.19 420.35,60.69 430.35,61.95 440.36,55.99 450.36,99.20 460.37,47.28 470.37,90.27 480.37,82.07 490.38,62.25 500.38,106.13 510.39,143.90 520.39,47.50"/>
<polygon points="330.31,103.05 333.17,105.91 330.31,108.77 327.45,105.91" fill="#B177DE"/>
<polygon points="340.31,75.48 343.17,78.34 340.31,81.20 337.45,78.34" fill="#B177DE"/>
<polygon points="350.32,70.05 353.18,72.91 350.32,75.77 347.46,72.91" fill="#B177DE"/>
<polygon points="360.32,95.90 363.18,98.76 360.32,101.62 357.46,98.76" fill="#B177DE"/>
<polygon points="370.33,132.33 373.19,135.19 370.33,138.05 367.47,135.19" fill="#B177DE"/>
<polygon points="380.33,76.75 383.19,79.61 380.33,82.47 377.47,79.61" fill="#B177DE"/>
<polygon points="390.33,64.01 393.19,66.87 390.33,69.73 387.47,66.87" fill="#B177DE"/>
<polygon points="400.34,149.24 403.20,152.10 400.34,154.96 397.48,152.10" fill="#B177DE"/>
<polygon points="410.34,61.33 413.20,64.19 410.34,67.05 407.48,64.19" fill="#B177DE"/>
<polygon points="420.35,57.83 423.21,60.69 420.35,63.55 417.49,60.69" fill="#B177DE"/>
<polygon points="430.35,59.09 433.21,61.95 430.35,64.81 427.49,61.95" fill="#B177DE"/>
<polygon points="440.36,53.13 443.22,55.99 440.36,58.85 437.50,55.99" fill="#B177DE"/>
<polygon points="450.36,96.34 453.22,99.20 450.36,102.06 447.50,99.20" fill="#B177DE"/>
<polygon points="460.37,44.42 463.23,47.28 460.37,50.14 457.51,47.28" fill="#B177DE"/>
<polygon points="470.37,87.41 473.23,90.27 470.37,93.12 467.51,90.27" fill="#B177DE"/>
<polygon points="480.37,79.21 483.23,82.07 480.37,84.93 477.51,82.07" fill="#B177DE"/>
<polygon points="490.38,59.39 493.24,62.25 490.38,65.11 487.52,62.25" fill="#B177DE"/>
<polygon points="500.38,103.27 503.24,106.13 500.38,108.99 497.52,106.13" fill="#B177DE"/>
<polygon points="510.39,141.04 513.25,143.90 510.39,146.76 507.53,143.90" fill="#B177DE"/>
<polygon points="520.39,44.64 523.25,47.50 520.39,50.36 517.53,47.50" fill="#B177DE"/>
<polyline fill="none" stroke="#CC9900" stroke-width="0.45" stroke-opacity="0.58" points="330.31,158.80 340.31,103.68 350.32,125.28 360.32,130.49 370.33,167.30 380.33,135.71 390.33,136.83 400.34,163.27 410.34,117.83 420.35,127.51 430.35,117.83 440.36,139.81 450.36,163.27 460.37,145.62 470.37,164.99 480.37,146.51 490.38,144.65 500.38,145.39 510.39,169.98 520.39,145.62"/>
<polygon points="327.58,158.80 332.39,156.07 332.39,161.53" fill="#CC9900"/>
<polygon points="337.58,103.68 342.39,100.95 342.39,106.41" fill="#CC9900"/>
<polygon points="347.59,125.28 352.40,122.55 352.40,128.01" fill="#CC9900"/>
<polygon points="357.59,130.49 362.40,127.76 362.40,133.22" fill="#CC9900"/>
<polygon points="367.60,167.30 372.41,164.57 372.41,170.03" fill="#CC9900"/>
<polygon points="377.60,135.71 382.41,132.98 382.41,138.44" fill="#CC9900"/>
<polygon points="387.60,136.83 392.41,134.10 392.41,139.56" fill="#CC9900"/>
<polygon points="397.61,163.27 402.42,160.54 402.42,166.00" fill="#CC9900"/>
<polygon points="407.61,117.83 412.42,115.10 412.42,120.56" fill="#CC9900"/>
<polygon points="417.62,127.51 422.43,124.78 422.43,130.24" fill="#CC9900"/>
<polygon points="427.62,117.83 432.43,115.10 432.43,120.56" fill="#CC9900"/>
<polygon points="437.63,139.81 442.44,137.08 442.44,142.54" fill="#CC9900"/>
<polygon points="447.63,163.27 452.44,160.54 452.44,166.00" fill="#CC9900"/>
<polygon points="457.64,145.62 462.45,142.89 462.45,148.35" fill="#CC9900"/>
<polygon points="467.64,164.99 472.45,162.26 472.45,167.72" fill="#CC9900"/>
<polygon points="477.64,146.51 482.45,143.78 482.45,149.24" fill="#CC9900"/>
<polygon points="487.65,144.65 492.46,141.92 492.46,147.38" fill="#CC9900"/>
<polygon points="497.65,145.39 502.46,142.66 502.46,148.12" fill="#CC9900"/>
<polygon points="507.66,169.98 512.47,167.25 512.47,172.71" fill="#CC9900"/>
<polygon points="517.66,145.62 522.47,142.89 522.47,148.35" fill="#CC9900"/>
<polyline fill="none" stroke="#00CBCC" stroke-width="0.45" stroke-opacity="0.58" points="330.31,110.38 340.31,84.30 350.32,82.07 360.32,115.37 370.33,132.88 380.33,96.23 390.33,71.04 400.34,142.64 410.34,84.30 420.35,82.07 430.35,71.04 440.36,58.97 450.36,96.45 460.37,63.00 470.37,101.07 480.37,98.46 490.38,65.98 500.38,123.04 510.39,147.18 520.39,62.25"/>
<polygon points="333.04,110.38 328.23,107.65 328.23,113.11" fill="#00CBCC"/>
<polygon points="343.04,84.30 338.23,81.57 338.23,87.03" fill="#00CBCC"/>
<polygon points="353.05,82.07 348.24,79.34 348.24,84.80" fill="#00CBCC"/>
<polygon points="363.05,115.37 358.24,112.64 358.24,118.10" fill="#00CBCC"/>
<polygon points="373.06,132.88 368.25,130.15 368.25,135.61" fill="#00CBCC"/>
<polygon points="383.06,96.23 378.25,93.50 378.25,98.96" fill="#00CBCC"/>
<polygon points="393.06,71.04 388.25,68.31 388.25,73.77" fill="#00CBCC"/>
<polygon points="403.07,142.64 398.26,139.91 398.26,145.37" fill="#00CBCC"/>
<polygon points="413.07,84.30 408.26,81.57 408.26,87.03" fill="#00CBCC"/>
<polygon points="423.08,82.07 418.27,79.34 418.27,84.80" fill="#00CBCC"/>
<polygon points="433.08,71.04 428.27,68.31 428.27,73.77" fill="#00CBCC"/>
<polygon points="443.09,58.97 438.28,56.24 438.28,61.70" fill="#00CBCC"/>
<polygon points="453.09,96.45 448.28,93.72 448.28,99.18" fill="#00CBCC"/>
<polygon points="463.10,63.00 458.29,60.27 458.29,65.73" fill="#00CBCC"/>
<polygon points="473.10,101.07 468.29,98.34 468.29,103.80" fill="#00CBCC"/>
<polygon points="483.10,98.46 478.29,95.73 478.29,101.19" fill="#00CBCC"/>
<polygon points="493.11,65.98 488.30,63.25 488.30,68.71" fill="#00CBCC"/>
<polygon points="503.11,123.04 498.30,120.31 498.30,125.77" fill="#00CBCC"/>
<polygon points="513.12,147.18 508.31,144.45 508.31,149.91" fill="#00CBCC"/>
<polygon points="523.12,62.25 518.31,59.52 518.31,64.98" fill="#00CBCC"/>
<polyline fill="none" stroke="#7D4E4E" stroke-width="0.45" stroke-opacity="0.58" points="330.31,105.69 340.31,80.28 350.32,65.98 360.32,70.60 370.33,110.38 380.33,66.42 390.33,67.62 400.34,80.28 410.34,68.29 420.35,73.87 430.35,80.73 440.36,51.90 450.36,91.38 460.37,38.86 470.37,108.15 480.37,91.01 490.38,75.66 500.38,150.24 510.39,135.19 520.39,66.42"/>
<polygon points="333.04,105.69 331.67,108.05 328.94,108.05 327.58,105.69 328.94,103.32 331.67,103.32" fill="#7D4E4E"/>
<polygon points="343.04,80.28 341.68,82.65 338.95,82.65 337.58,80.28 338.95,77.92 341.68,77.92" fill="#7D4E4E"/>
<polygon points="353.05,65.98 351.68,68.34 348.95,68.34 347.59,65.98 348.95,63.61 351.68,63.61" fill="#7D4E4E"/>
<polygon points="363.05,70.60 361.69,72.96 358.96,72.96 357.59,70.60 358.96,68.23 361.69,68.23" fill="#7D4E4E"/>
<polygon points="373.06,110.38 371.69,112.74 368.96,112.74 367.60,110.38 368.96,108.02 371.69,108.02" fill="#7D4E4E"/>
<polygon points="383.06,66.42 381.70,68.79 378.97,68.79 377.60,66.42 378.97,64.06 381.70,64.06" fill="#7D4E4E"/>
<polygon points="393.06,67.62 391.70,69.98 388.97,69.98 387.60,67.62 388.97,65.25 391.70,65.25" fill="#7D4E4E"/>
<polygon points="403.07,80.28 401.70,82.65 398.97,82.65 397.61,80.28 398.97,77.92 401.70,77.92" fill="#7D4E4E"/>
<polygon points="413.07,68.29 411.71,70.65 408.98,70.65 407.61,68.29 408.98,65.92 411.71,65.92" fill="#7D4E4E"/>
<polygon points="423.08,73.87 421.71,76.24 418.98,76.24 417.62,73.87 418.98,71.51 421.71,71.51" fill="#7D4E4E"/>
<polygon points="433.08,80.73 431.72,83.09 428.99,83.09 427.62,80.73 428.99,78.36 431.72,78.36" fill="#7D4E4E"/>
<polygon points="443.09,51.90 441.72,54.26 438.99,54.26 437.63,51.90 438.99,49.53 441.72,49.53" fill="#7D4E4E"/>
<polygon points="453.09,91.38 451.73,93.75 449.00,93.75 447.63,91.38 449.00,89.02 451.73,89.02" fill="#7D4E4E"/>
<polygon points="463.10,38.86 461.73,41.22 459.00,41.22 457.64,38.86 459.00,36.50 461.73,36.50" fill="#7D4E4E"/>
<polygon points="473.10,108.15 471.73,110.51 469.00,110.51 467.64,108.15 469.00,105.78 471.73,105.78" fill="#7D4E4E"/>
<polygon points="483.10,91.01 481.74,93.37 479.01,93.37 477.64,91.01 479.01,88.65 481.74,88.65" fill="#7D4E4E"/>
<polygon points="493.11,75.66 491.74,78.03 489.01,78.03 487.65,75.66 489.01,73.30 491.74,73.30" fill="#7D4E4E"/>
<polygon points="503.11,150.24 501.75,152.60 499.02,152.60 497.65,150.24 499.02,147.87 501.75,147.87" fill="#7D4E4E"/>
<polygon points="513.12,135.19 511.75,137.55 509.02,137.55 507.66,135.19 509.02,132.82 511.75,132.82" fill="#7D4E4E"/>
<polygon points="523.12,66.42 521.76,68.79 519.03,68.79 517.66,66.42 519.03,64.06 521.76,64.06" fill="#7D4E4E"/>
<polyline fill="none" stroke="#8E8E00" stroke-width="0.45" stroke-opacity="0.58" points="330.31,61.21 340.31,59.72 350.32,61.21 360.32,53.01 370.33,91.01 380.33,69.40 390.33,68.66 400.34,91.01 410.34,38.86 420.35,67.62 430.35,52.57 440.36,41.09 450.36,75.66 460.37,34.39 470.37,68.29 480.37,68.29 490.38,39.23 500.38,112.61 510.39,120.81 520.39,30.22"/>
<polygon points="330.31,58.74 330.95,60.33 332.66,60.45 331.35,61.55 331.76,63.21 330.31,62.30 328.86,63.21 329.27,61.55 327.96,60.45 329.67,60.33" fill="#8E8E00"/>
<polygon points="340.31,57.25 340.95,58.84 342.66,58.96 341.35,60.06 341.76,61.72 340.31,60.81 338.86,61.72 339.27,60.06 337.96,58.96 339.67,58.84" fill="#8E8E00"/>
<polygon points="350.32,58.74 350.96,60.33 352.67,60.45 351.36,61.55 351.77,63.21 350.32,62.30 348.87,63.21 349.28,61.55 347.97,60.45 349.68,60.33" fill="#8E8E00"/>
<polygon points="360.32,50.54 360.96,52.13 362.67,52.25 361.36,53.35 361.77,55.01 360.32,54.11 358.87,55.01 359.28,53.35 357.97,52.25 359.68,52.13" fill="#8E8E00"/>
<polygon points="370.33,88.54 370.97,90.13 372.68,90.25 371.36,91.35 371.78,93.01 370.33,92.10 368.87,93.01 369.29,91.35 367.98,90.25 369.68,90.13" fill="#8E8E00"/>
<polygon points="380.33,66.93 380.97,68.52 382.68,68.64 381.37,69.74 381.78,71.40 380.33,70.50 378.88,71.40 379.29,69.74 377.98,68.64 379.69,68.52" fill="#8E8E00"/>
<polygon points="390.33,66.19 390.98,67.78 392.68,67.90 391.37,69.00 391.79,70.66 390.33,69.75 388.88,70.66 389.30,69.00 387.99,67.90 389.69,67.78" fill="#8E8E00"/>
<polygon points="400.34,88.54 400.98,90.13 402.69,90.25 401.38,91.35 401.79,93.01 400.34,92.10 398.89,93.01 399.30,91.35 397.99,90.25 399.70,90.13" fill="#8E8E00"/>
<polygon points="410.34,36.39 410.99,37.98 412.69,38.10 411.38,39.20 411.80,40.86 410.34,39.95 408.89,40.86 409.30,39.20 407.99,38.10 409.70,37.98" fill="#8E8E00"/>
<polygon points="420.35,65.15 420.99,66.73 422.70,66.85 421.39,67.95 421.80,69.62 420.35,68.71 418.90,69.62 419.31,67.95 418.00,66.85 419.71,66.73" fill="#8E8E00"/>
<polygon points="430.35,50.10 430.99,51.68 432.70,51.80 431.39,52.91 431.80,54.57 430.35,53.66 428.90,54.57 429.31,52.91 428.00,51.80 429.71,51.68" fill="#8E8E00"/>
<polygon points="440.36,38.62 441.00,40.21 442.71,40.33 441.40,41.43 441.81,43.09 440.36,42.19 438.90,43.09 439.32,41.43 438.01,40.33 439.71,40.21" fill="#8E8E00"/>
<polygon points="450.36,73.19 451.00,74.78 452.71,74.90 451.40,76.00 451.81,77.66 450.36,76.75 448.91,77.66 449.32,76.00 448.01,74.90 449.72,74.78" fill="#8E8E00"/>
<polygon points="460.37,31.92 461.01,33.51 462.71,33.63 461.40,34.73 461.82,36.39 460.37,35.48 458.91,36.39 459.33,34.73 458.02,33.63 459.72,33.51" fill="#8E8E00"/>
<polygon points="470.37,65.82 471.01,67.40 472.72,67.52 471.41,68.62 471.82,70.29 470.37,69.38 468.92,70.29 469.33,68.62 468.02,67.52 469.73,67.40" fill="#8E8E00"/>
<polygon points="480.37,65.82 481.02,67.40 482.72,67.52 481.41,68.62 481.83,70.29 480.37,69.38 478.92,70.29 479.34,68.62 478.02,67.52 479.73,67.40" fill="#8E8E00"/>
<polygon points="490.38,36.76 491.02,38.35 492.73,38.47 491.42,39.57 491.83,41.23 490.38,40.32 488.93,41.23 489.34,39.57 488.03,38.47 489.74,38.35" fill="#8E8E00"/>
<polygon points="500.38,110.14 501.02,111.73 502.73,111.85 501.42,112.95 501.83,114.61 500.38,113.71 498.93,114.61 499.34,112.95 498.03,111.85 499.74,111.73" fill="#8E8E00"/>
<polygon points="510.39,118.34 511.03,119.93 512.74,120.05 511.43,121.15 511.84,122.81 510.39,121.90 508.94,122.81 509.35,121.15 508.04,120.05 509.75,119.93" fill="#8E8E00"/>
<polygon points="520.39,27.75 521.03,29.33 522.74,29.45 521.43,30.56 521.84,32.22 520.39,31.31 518.94,32.22 519.35,30.56 518.04,29.45 519.75,29.33" fill="#8E8E00"/>
<polyline fill="none" stroke="#FB6501" stroke-width="0.45" stroke-opacity="0.58" points="330.31,97.12 340.31,74.99 350.32,68.66 360.32,79.61 370.33,130.49 380.33,72.91 390.33,52.12 400.34,113.06 410.34,57.19 420.35,69.40 430.35,59.50 440.36,54.50 450.36,93.25 460.37,41.84 470.37,78.34 480.37,75.36 490.38,54.88 500.38,120.06 510.39,133.47 520.39,45.19"/>
<polygon points="330.31,94.26 333.03,96.24 331.99,99.43 328.63,99.43 327.59,96.24" fill="#FB6501"/>
<polygon points="340.31,72.13 343.03,74.11 341.99,77.31 338.63,77.31 337.59,74.11" fill="#FB6501"/>
<polygon points="350.32,65.80 353.04,67.78 352.00,70.97 348.64,70.97 347.60,67.78" fill="#FB6501"/>
<polygon points="360.32,76.75 363.04,78.73 362.00,81.93 358.64,81.93 357.60,78.73" fill="#FB6501"/>
<polygon points="370.33,127.63 373.05,129.61 372.01,132.81 368.65,132.81 367.61,129.61" fill="#FB6501"/>
<polygon points="380.33,70.05 383.05,72.02 382.01,75.22 378.65,75.22 377.61,72.02" fill="#FB6501"/>
<polygon points="390.33,49.26 393.05,51.24 392.02,54.43 388.65,54.43 387.61,51.24" fill="#FB6501"/>
<polygon points="400.34,110.20 403.06,112.18 402.02,115.38 398.66,115.38 397.62,112.18" fill="#FB6501"/>
<polygon points="410.34,54.33 413.06,56.30 412.02,59.50 408.66,59.50 407.62,56.30" fill="#FB6501"/>
<polygon points="420.35,66.54 423.07,68.52 422.03,71.72 418.67,71.72 417.63,68.52" fill="#FB6501"/>
<polygon points="430.35,56.64 433.07,58.61 432.03,61.81 428.67,61.81 427.63,58.61" fill="#FB6501"/>
<polygon points="440.36,51.64 443.08,53.62 442.04,56.82 438.68,56.82 437.64,53.62" fill="#FB6501"/>
<polygon points="450.36,90.39 453.08,92.36 452.04,95.56 448.68,95.56 447.64,92.36" fill="#FB6501"/>
<polygon points="460.37,38.98 463.09,40.96 462.05,44.15 458.68,44.15 457.65,40.96" fill="#FB6501"/>
<polygon points="470.37,75.48 473.09,77.46 472.05,80.66 468.69,80.66 467.65,77.46" fill="#FB6501"/>
<polygon points="480.37,72.50 483.09,74.48 482.05,77.68 478.69,77.68 477.65,74.48" fill="#FB6501"/>
<polygon points="490.38,52.02 493.10,53.99 492.06,57.19 488.70,57.19 487.66,53.99" fill="#FB6501"/>
<polygon points="500.38,117.20 503.10,119.18 502.06,122.38 498.70,122.38 497.66,119.18" fill="#FB6501"/>
<polygon points="510.39,130.61 513.11,132.59 512.07,135.79 508.71,135.79 507.67,132.59" fill="#FB6501"/>
<polygon points="520.39,42.33 523.11,44.31 522.07,47.51 518.71,47.51 517.67,44.31" fill="#FB6501"/>
<rect x="310.30" y="7.45" width="230.10" height="185.20" fill="none" stroke="#484848" stroke-width="1.15"/>
<path d="M320.30 192.65V189.45M340.31 192.65V189.45M360.32 192.65V189.45M380.33 192.65V189.45M400.34 192.65V189.45M420.35 192.65V189.45M440.36 192.65V189.45M460.37 192.65V189.45M480.37 192.65V189.45M500.38 192.65V189.45M520.39 192.65V189.45M540.40 192.65V189.45M330.31 192.65V191.05M350.32 192.65V191.05M370.33 192.65V191.05M390.33 192.65V191.05M410.34 192.65V191.05M430.35 192.65V191.05M450.36 192.65V191.05M470.37 192.65V191.05M490.38 192.65V191.05M510.39 192.65V191.05M530.40 192.65V191.05M310.30 174.45H313.50M310.30 137.20H313.50M310.30 99.95H313.50M310.30 62.70H313.50M310.30 25.45H313.50M310.30 155.82H311.90M310.30 118.58H311.90M310.30 81.32H311.90M310.30 44.08H311.90" stroke="#484848" stroke-width="0.9" fill="none"/>
<text x="320.30" y="202.65" text-anchor="middle" font-size="7.2" stroke-width="0.05" fill="#1a1a1a">0</text>
<text x="340.31" y="202.65" text-anchor="middle" font-size="7.2" stroke-width="0.05" fill="#1a1a1a">2</text>
<text x="360.32" y="202.65" text-anchor="middle" font-size="7.2" stroke-width="0.05" fill="#1a1a1a">4</text>
<text x="380.33" y="202.65" text-anchor="middle" font-size="7.2" stroke-width="0.05" fill="#1a1a1a">6</text>
<text x="400.34" y="202.65" text-anchor="middle" font-size="7.2" stroke-width="0.05" fill="#1a1a1a">8</text>
<text x="420.35" y="202.65" text-anchor="middle" font-size="7.2" stroke-width="0.05" fill="#1a1a1a">10</text>
<text x="440.36" y="202.65" text-anchor="middle" font-size="7.2" stroke-width="0.05" fill="#1a1a1a">12</text>
<text x="460.37" y="202.65" text-anchor="middle" font-size="7.2" stroke-width="0.05" fill="#1a1a1a">14</text>
<text x="480.37" y="202.65" text-anchor="middle" font-size="7.2" stroke-width="0.05" fill="#1a1a1a">16</text>
<text x="500.38" y="202.65" text-anchor="middle" font-size="7.2" stroke-width="0.05" fill="#1a1a1a">18</text>
<text x="520.39" y="202.65" text-anchor="middle" font-size="7.2" stroke-width="0.05" fill="#1a1a1a">20</text>
<text x="540.40" y="202.65" text-anchor="middle" font-size="7.2" stroke-width="0.05" fill="#1a1a1a">22</text>
<text x="306.10" y="176.90" text-anchor="end" font-size="7.2" stroke-width="0.05" fill="#1a1a1a">0.60</text>
<text x="306.10" y="139.65" text-anchor="end" font-size="7.2" stroke-width="0.05" fill="#1a1a1a">0.65</text>
<text x="306.10" y="102.40" text-anchor="end" font-size="7.2" stroke-width="0.05" fill="#1a1a1a">0.70</text>
<text x="306.10" y="65.15" text-anchor="end" font-size="7.2" stroke-width="0.05" fill="#1a1a1a">0.75</text>
<text x="306.10" y="27.90" text-anchor="end" font-size="7.2" stroke-width="0.05" fill="#1a1a1a">0.80</text>
<text x="425.40" y="217.85" text-anchor="middle" font-size="9.8" fill="#1a1a1a">Image pairs</text>
<text transform="translate(288.50 100.05) rotate(-90)" text-anchor="middle" font-size="9.7" fill="#1a1a1a">Values of SSIM</text>
<rect x="318.80" y="9.30" width="216.70" height="16.00" fill="#fff" stroke="#484848" stroke-width="0.6"/>
<line x1="321.40" y1="13.40" x2="334.80" y2="13.40" stroke="#515151" stroke-width="0.45" stroke-opacity="0.58"/>
<rect x="326.10" y="11.40" width="4.00" height="4.00" fill="#515151"/>
<text x="336.90" y="15.45" font-size="6.10" fill="#1a1a1a">DWT</text>
<line x1="367.40" y1="13.40" x2="380.80" y2="13.40" stroke="#F14040" stroke-width="0.45" stroke-opacity="0.58"/>
<circle cx="374.10" cy="13.40" r="2.35" fill="#F14040"/>
<text x="382.90" y="15.45" font-size="6.10" fill="#1a1a1a">DenseFuse</text>
<line x1="411.30" y1="13.40" x2="424.70" y2="13.40" stroke="#1A6FDF" stroke-width="0.45" stroke-opacity="0.58"/>
<polygon points="418.00,10.93 420.47,15.28 415.53,15.28" fill="#1A6FDF"/>
<text x="426.80" y="15.45" font-size="6.10" fill="#1a1a1a">GTF</text>
<line x1="451.30" y1="13.40" x2="464.70" y2="13.40" stroke="#37AD6B" stroke-width="0.45" stroke-opacity="0.58"/>
<polygon points="458.00,15.87 460.47,11.52 455.53,11.52" fill="#37AD6B"/>
<text x="466.80" y="15.45" font-size="6.10" fill="#1a1a1a">CNN</text>
<line x1="496.80" y1="13.40" x2="510.20" y2="13.40" stroke="#B177DE" stroke-width="0.45" stroke-opacity="0.58"/>
<polygon points="503.50,10.81 506.08,13.40 503.50,15.99 500.92,13.40" fill="#B177DE"/>
<text x="512.30" y="15.45" font-size="6.10" fill="#1a1a1a">NestFuse</text>
<line x1="321.40" y1="21.10" x2="334.80" y2="21.10" stroke="#CC9900" stroke-width="0.45" stroke-opacity="0.58"/>
<polygon points="325.63,21.10 329.98,18.63 329.98,23.57" fill="#CC9900"/>
<text x="336.90" y="23.15" font-size="6.10" fill="#1a1a1a">FusionGAN</text>
<line x1="367.40" y1="21.10" x2="380.80" y2="21.10" stroke="#00CBCC" stroke-width="0.45" stroke-opacity="0.58"/>
<polygon points="376.57,21.10 372.22,18.63 372.22,23.57" fill="#00CBCC"/>
<text x="382.90" y="23.15" font-size="6.10" fill="#1a1a1a">DIDFuse</text>
<line x1="411.30" y1="21.10" x2="424.70" y2="21.10" stroke="#7D4E4E" stroke-width="0.45" stroke-opacity="0.58"/>
<polygon points="420.47,21.10 419.23,23.24 416.77,23.24 415.53,21.10 416.77,18.96 419.23,18.96" fill="#7D4E4E"/>
<text x="426.80" y="23.15" font-size="6.10" fill="#1a1a1a">SwinFuse</text>
<line x1="451.30" y1="21.10" x2="464.70" y2="21.10" stroke="#8E8E00" stroke-width="0.45" stroke-opacity="0.58"/>
<polygon points="458.00,18.87 458.58,20.30 460.12,20.41 458.94,21.40 459.31,22.91 458.00,22.09 456.69,22.91 457.06,21.40 455.88,20.41 457.42,20.30" fill="#8E8E00"/>
<text x="466.80" y="23.15" font-size="6.10" fill="#1a1a1a">MUFusion</text>
<line x1="496.80" y1="21.10" x2="510.20" y2="21.10" stroke="#FB6501" stroke-width="0.45" stroke-opacity="0.58"/>
<polygon points="503.50,18.52 505.96,20.30 505.02,23.19 501.98,23.19 501.04,20.30" fill="#FB6501"/>
<text x="512.30" y="23.15" font-size="6.10" fill="#1a1a1a">DCF</text>
<text x="386.90" y="238.70" font-size="14.3" fill="#111" stroke-width="0.1" textLength="51.8" lengthAdjust="spacingAndGlyphs">(<tspan font-weight="bold">b</tspan>) SSIM</text></g>
<g id="chart-c"><polyline fill="none" stroke="#515151" stroke-width="0.45" stroke-opacity="0.58" points="50.91,374.08 61.09,383.32 71.27,391.44 81.45,377.66 91.63,365.40 101.81,374.64 111.99,377.47 122.17,372.38 132.35,369.55 142.53,376.91 152.72,363.70 162.90,362.19 173.08,356.15 183.26,360.30 193.44,372.19 203.62,358.41 213.80,357.47 223.98,361.06 234.16,378.04 244.34,366.53"/>
<rect x="48.70" y="371.87" width="4.42" height="4.42" fill="#515151"/>
<rect x="58.88" y="381.11" width="4.42" height="4.42" fill="#515151"/>
<rect x="69.06" y="389.23" width="4.42" height="4.42" fill="#515151"/>
<rect x="79.24" y="375.45" width="4.42" height="4.42" fill="#515151"/>
<rect x="89.42" y="363.19" width="4.42" height="4.42" fill="#515151"/>
<rect x="99.60" y="372.43" width="4.42" height="4.42" fill="#515151"/>
<rect x="109.78" y="375.26" width="4.42" height="4.42" fill="#515151"/>
<rect x="119.96" y="370.17" width="4.42" height="4.42" fill="#515151"/>
<rect x="130.14" y="367.34" width="4.42" height="4.42" fill="#515151"/>
<rect x="140.32" y="374.70" width="4.42" height="4.42" fill="#515151"/>
<rect x="150.51" y="361.49" width="4.42" height="4.42" fill="#515151"/>
<rect x="160.69" y="359.98" width="4.42" height="4.42" fill="#515151"/>
<rect x="170.87" y="353.94" width="4.42" height="4.42" fill="#515151"/>
<rect x="181.05" y="358.09" width="4.42" height="4.42" fill="#515151"/>
<rect x="191.23" y="369.98" width="4.42" height="4.42" fill="#515151"/>
<rect x="201.41" y="356.20" width="4.42" height="4.42" fill="#515151"/>
<rect x="211.59" y="355.26" width="4.42" height="4.42" fill="#515151"/>
<rect x="221.77" y="358.85" width="4.42" height="4.42" fill="#515151"/>
<rect x="231.95" y="375.83" width="4.42" height="4.42" fill="#515151"/>
<rect x="242.13" y="364.32" width="4.42" height="4.42" fill="#515151"/>
<polyline fill="none" stroke="#F14040" stroke-width="0.45" stroke-opacity="0.58" points="50.91,385.02 61.09,380.30 71.27,373.70 81.45,376.91 91.63,380.30 101.81,376.91 111.99,376.34 122.17,372.94 132.35,364.83 142.53,374.64 152.72,391.44 162.90,387.28 173.08,383.32 183.26,382.94 193.44,381.62 203.62,372.94 213.80,383.32 223.98,377.47 234.16,370.11 244.34,380.30"/>
<circle cx="50.91" cy="385.02" r="2.60" fill="#F14040"/>
<circle cx="61.09" cy="380.30" r="2.60" fill="#F14040"/>
<circle cx="71.27" cy="373.70" r="2.60" fill="#F14040"/>
<circle cx="81.45" cy="376.91" r="2.60" fill="#F14040"/>
<circle cx="91.63" cy="380.30" r="2.60" fill="#F14040"/>
<circle cx="101.81" cy="376.91" r="2.60" fill="#F14040"/>
<circle cx="111.99" cy="376.34" r="2.60" fill="#F14040"/>
<circle cx="122.17" cy="372.94" r="2.60" fill="#F14040"/>
<circle cx="132.35" cy="364.83" r="2.60" fill="#F14040"/>
<circle cx="142.53" cy="374.64" r="2.60" fill="#F14040"/>
<circle cx="152.72" cy="391.44" r="2.60" fill="#F14040"/>
<circle cx="162.90" cy="387.28" r="2.60" fill="#F14040"/>
<circle cx="173.08" cy="383.32" r="2.60" fill="#F14040"/>
<circle cx="183.26" cy="382.94" r="2.60" fill="#F14040"/>
<circle cx="193.44" cy="381.62" r="2.60" fill="#F14040"/>
<circle cx="203.62" cy="372.94" r="2.60" fill="#F14040"/>
<circle cx="213.80" cy="383.32" r="2.60" fill="#F14040"/>
<circle cx="223.98" cy="377.47" r="2.60" fill="#F14040"/>
<circle cx="234.16" cy="370.11" r="2.60" fill="#F14040"/>
<circle cx="244.34" cy="380.30" r="2.60" fill="#F14040"/>
<polyline fill="none" stroke="#1A6FDF" stroke-width="0.45" stroke-opacity="0.58" points="50.91,388.42 61.09,387.28 71.27,385.59 81.45,387.85 91.63,388.61 101.81,387.85 111.99,386.72 122.17,390.30 132.35,394.83 142.53,396.72 152.72,394.83 162.90,390.87 173.08,387.85 183.26,389.74 193.44,395.59 203.62,398.23 213.80,397.66 223.98,394.83 234.16,388.42 244.34,386.15"/>
<polygon points="50.91,385.69 53.64,390.50 48.18,390.50" fill="#1A6FDF"/>
<polygon points="61.09,384.55 63.82,389.36 58.36,389.36" fill="#1A6FDF"/>
<polygon points="71.27,382.86 74.00,387.67 68.54,387.67" fill="#1A6FDF"/>
<polygon points="81.45,385.12 84.18,389.93 78.72,389.93" fill="#1A6FDF"/>
<polygon points="91.63,385.88 94.36,390.69 88.90,390.69" fill="#1A6FDF"/>
<polygon points="101.81,385.12 104.54,389.93 99.08,389.93" fill="#1A6FDF"/>
<polygon points="111.99,383.99 114.72,388.80 109.26,388.80" fill="#1A6FDF"/>
<polygon points="122.17,387.57 124.90,392.38 119.44,392.38" fill="#1A6FDF"/>
<polygon points="132.35,392.10 135.08,396.91 129.62,396.91" fill="#1A6FDF"/>
<polygon points="142.53,393.99 145.26,398.80 139.80,398.80" fill="#1A6FDF"/>
<polygon points="152.72,392.10 155.45,396.91 149.99,396.91" fill="#1A6FDF"/>
<polygon points="162.90,388.14 165.63,392.95 160.17,392.95" fill="#1A6FDF"/>
<polygon points="173.08,385.12 175.81,389.93 170.35,389.93" fill="#1A6FDF"/>
<polygon points="183.26,387.01 185.99,391.82 180.53,391.82" fill="#1A6FDF"/>
<polygon points="193.44,392.86 196.17,397.67 190.71,397.67" fill="#1A6FDF"/>
<polygon points="203.62,395.50 206.35,400.31 200.89,400.31" fill="#1A6FDF"/>
<polygon points="213.80,394.93 216.53,399.74 211.07,399.74" fill="#1A6FDF"/>
<polygon points="223.98,392.10 226.71,396.91 221.25,396.91" fill="#1A6FDF"/>
<polygon points="234.16,385.69 236.89,390.50 231.43,390.50" fill="#1A6FDF"/>
<polygon points="244.34,383.42 247.07,388.23 241.61,388.23" fill="#1A6FDF"/>
<polyline fill="none" stroke="#37AD6B" stroke-width="0.45" stroke-opacity="0.58" points="50.91,361.06 61.09,367.28 71.27,378.23 81.45,363.70 91.63,350.68 101.81,351.62 111.99,378.79 122.17,362.19 132.35,350.30 142.53,359.55 152.72,381.06 162.90,374.64 173.08,367.66 183.26,373.70 193.44,385.21 203.62,369.55 213.80,342.37 223.98,354.07 234.16,328.03 244.34,353.32"/>
<polygon points="50.91,363.79 53.64,358.98 48.18,358.98" fill="#37AD6B"/>
<polygon points="61.09,370.01 63.82,365.20 58.36,365.20" fill="#37AD6B"/>
<polygon points="71.27,380.96 74.00,376.15 68.54,376.15" fill="#37AD6B"/>
<polygon points="81.45,366.43 84.18,361.62 78.72,361.62" fill="#37AD6B"/>
<polygon points="91.63,353.41 94.36,348.60 88.90,348.60" fill="#37AD6B"/>
<polygon points="101.81,354.35 104.54,349.54 99.08,349.54" fill="#37AD6B"/>
<polygon points="111.99,381.52 114.72,376.71 109.26,376.71" fill="#37AD6B"/>
<polygon points="122.17,364.92 124.90,360.11 119.44,360.11" fill="#37AD6B"/>
<polygon points="132.35,353.03 135.08,348.22 129.62,348.22" fill="#37AD6B"/>
<polygon points="142.53,362.28 145.26,357.47 139.80,357.47" fill="#37AD6B"/>
<polygon points="152.72,383.79 155.45,378.98 149.99,378.98" fill="#37AD6B"/>
<polygon points="162.90,377.37 165.63,372.56 160.17,372.56" fill="#37AD6B"/>
<polygon points="173.08,370.39 175.81,365.58 170.35,365.58" fill="#37AD6B"/>
<polygon points="183.26,376.43 185.99,371.62 180.53,371.62" fill="#37AD6B"/>
<polygon points="193.44,387.94 196.17,383.13 190.71,383.13" fill="#37AD6B"/>
<polygon points="203.62,372.28 206.35,367.47 200.89,367.47" fill="#37AD6B"/>
<polygon points="213.80,345.10 216.53,340.29 211.07,340.29" fill="#37AD6B"/>
<polygon points="223.98,356.80 226.71,351.99 221.25,351.99" fill="#37AD6B"/>
<polygon points="234.16,330.76 236.89,325.95 231.43,325.95" fill="#37AD6B"/>
<polygon points="244.34,356.05 247.07,351.24 241.61,351.24" fill="#37AD6B"/>
<polyline fill="none" stroke="#B177DE" stroke-width="0.45" stroke-opacity="0.58" points="50.91,380.30 61.09,368.41 71.27,339.54 81.45,315.39 91.63,296.90 101.81,303.88 111.99,323.50 122.17,313.88 132.35,296.90 142.53,308.41 152.72,321.62 162.90,314.63 173.08,302.18 183.26,311.99 193.44,325.77 203.62,302.75 213.80,277.84 223.98,306.90 234.16,321.81 244.34,277.27"/>
<polygon points="50.91,377.44 53.77,380.30 50.91,383.16 48.05,380.30" fill="#B177DE"/>
<polygon points="61.09,365.55 63.95,368.41 61.09,371.27 58.23,368.41" fill="#B177DE"/>
<polygon points="71.27,336.68 74.13,339.54 71.27,342.40 68.41,339.54" fill="#B177DE"/>
<polygon points="81.45,312.53 84.31,315.39 81.45,318.25 78.59,315.39" fill="#B177DE"/>
<polygon points="91.63,294.04 94.49,296.90 91.63,299.76 88.77,296.90" fill="#B177DE"/>
<polygon points="101.81,301.02 104.67,303.88 101.81,306.74 98.95,303.88" fill="#B177DE"/>
<polygon points="111.99,320.64 114.85,323.50 111.99,326.36 109.13,323.50" fill="#B177DE"/>
<polygon points="122.17,311.02 125.03,313.88 122.17,316.74 119.31,313.88" fill="#B177DE"/>
<polygon points="132.35,294.04 135.21,296.90 132.35,299.76 129.49,296.90" fill="#B177DE"/>
<polygon points="142.53,305.55 145.39,308.41 142.53,311.27 139.67,308.41" fill="#B177DE"/>
<polygon points="152.72,318.76 155.58,321.62 152.72,324.48 149.86,321.62" fill="#B177DE"/>
<polygon points="162.90,311.77 165.76,314.63 162.90,317.49 160.04,314.63" fill="#B177DE"/>
<polygon points="173.08,299.32 175.94,302.18 173.08,305.04 170.22,302.18" fill="#B177DE"/>
<polygon points="183.26,309.13 186.12,311.99 183.26,314.85 180.40,311.99" fill="#B177DE"/>
<polygon points="193.44,322.91 196.30,325.77 193.44,328.63 190.58,325.77" fill="#B177DE"/>
<polygon points="203.62,299.89 206.48,302.75 203.62,305.61 200.76,302.75" fill="#B177DE"/>
<polygon points="213.80,274.98 216.66,277.84 213.80,280.70 210.94,277.84" fill="#B177DE"/>
<polygon points="223.98,304.04 226.84,306.90 223.98,309.76 221.12,306.90" fill="#B177DE"/>
<polygon points="234.16,318.95 237.02,321.81 234.16,324.67 231.30,321.81" fill="#B177DE"/>
<polygon points="244.34,274.41 247.20,277.27 244.34,280.13 241.48,277.27" fill="#B177DE"/>
<polyline fill="none" stroke="#CC9900" stroke-width="0.45" stroke-opacity="0.58" points="50.91,417.85 61.09,422.01 71.27,420.12 81.45,412.76 91.63,402.19 101.81,430.12 111.99,414.46 122.17,417.10 132.35,425.21 142.53,409.74 152.72,413.32 162.90,421.25 173.08,415.21 183.26,411.63 193.44,419.74 203.62,424.27 213.80,413.70 223.98,418.42 234.16,410.31 244.34,430.50"/>
<polygon points="48.18,417.85 52.99,415.12 52.99,420.58" fill="#CC9900"/>
<polygon points="58.36,422.01 63.17,419.28 63.17,424.74" fill="#CC9900"/>
<polygon points="68.54,420.12 73.35,417.39 73.35,422.85" fill="#CC9900"/>
<polygon points="78.72,412.76 83.53,410.03 83.53,415.49" fill="#CC9900"/>
<polygon points="88.90,402.19 93.71,399.46 93.71,404.92" fill="#CC9900"/>
<polygon points="99.08,430.12 103.89,427.39 103.89,432.85" fill="#CC9900"/>
<polygon points="109.26,414.46 114.07,411.73 114.07,417.19" fill="#CC9900"/>
<polygon points="119.44,417.10 124.25,414.37 124.25,419.83" fill="#CC9900"/>
<polygon points="129.62,425.21 134.43,422.48 134.43,427.94" fill="#CC9900"/>
<polygon points="139.80,409.74 144.61,407.01 144.61,412.47" fill="#CC9900"/>
<polygon points="149.99,413.32 154.80,410.59 154.80,416.05" fill="#CC9900"/>
<polygon points="160.17,421.25 164.98,418.52 164.98,423.98" fill="#CC9900"/>
<polygon points="170.35,415.21 175.16,412.48 175.16,417.94" fill="#CC9900"/>
<polygon points="180.53,411.63 185.34,408.90 185.34,414.36" fill="#CC9900"/>
<polygon points="190.71,419.74 195.52,417.01 195.52,422.47" fill="#CC9900"/>
<polygon points="200.89,424.27 205.70,421.54 205.70,427.00" fill="#CC9900"/>
<polygon points="211.07,413.70 215.88,410.97 215.88,416.43" fill="#CC9900"/>
<polygon points="221.25,418.42 226.06,415.69 226.06,421.15" fill="#CC9900"/>
<polygon points="231.43,410.31 236.24,407.58 236.24,413.04" fill="#CC9900"/>
<polygon points="241.61,430.50 246.42,427.77 246.42,433.23" fill="#CC9900"/>
<polyline fill="none" stroke="#00CBCC" stroke-width="0.45" stroke-opacity="0.58" points="50.91,382.19 61.09,370.68 71.27,335.01 81.45,348.22 91.63,308.41 101.81,331.43 111.99,371.43 122.17,333.69 132.35,302.18 142.53,325.77 152.72,336.52 162.90,380.30 173.08,363.70 183.26,288.78 193.44,337.66 203.62,379.93 213.80,361.43 223.98,318.79 234.16,322.18 244.34,362.56"/>
<polygon points="53.64,382.19 48.83,379.46 48.83,384.92" fill="#00CBCC"/>
<polygon points="63.82,370.68 59.01,367.95 59.01,373.41" fill="#00CBCC"/>
<polygon points="74.00,335.01 69.19,332.28 69.19,337.74" fill="#00CBCC"/>
<polygon points="84.18,348.22 79.37,345.49 79.37,350.95" fill="#00CBCC"/>
<polygon points="94.36,308.41 89.55,305.68 89.55,311.14" fill="#00CBCC"/>
<polygon points="104.54,331.43 99.73,328.70 99.73,334.16" fill="#00CBCC"/>
<polygon points="114.72,371.43 109.91,368.70 109.91,374.16" fill="#00CBCC"/>
<polygon points="124.90,333.69 120.09,330.96 120.09,336.42" fill="#00CBCC"/>
<polygon points="135.08,302.18 130.27,299.45 130.27,304.91" fill="#00CBCC"/>
<polygon points="145.26,325.77 140.45,323.04 140.45,328.50" fill="#00CBCC"/>
<polygon points="155.45,336.52 150.64,333.79 150.64,339.25" fill="#00CBCC"/>
<polygon points="165.63,380.30 160.82,377.57 160.82,383.03" fill="#00CBCC"/>
<polygon points="175.81,363.70 171.00,360.97 171.00,366.43" fill="#00CBCC"/>
<polygon points="185.99,288.78 181.18,286.05 181.18,291.51" fill="#00CBCC"/>
<polygon points="196.17,337.66 191.36,334.93 191.36,340.39" fill="#00CBCC"/>
<polygon points="206.35,379.93 201.54,377.19 201.54,382.66" fill="#00CBCC"/>
<polygon points="216.53,361.43 211.72,358.70 211.72,364.16" fill="#00CBCC"/>
<polygon points="226.71,318.79 221.90,316.06 221.90,321.52" fill="#00CBCC"/>
<polygon points="236.89,322.18 232.08,319.45 232.08,324.91" fill="#00CBCC"/>
<polygon points="247.07,362.56 242.26,359.83 242.26,365.29" fill="#00CBCC"/>
<polyline fill="none" stroke="#7D4E4E" stroke-width="0.45" stroke-opacity="0.58" points="50.91,347.66 61.09,352.19 71.27,324.64 81.45,316.52 91.63,307.84 101.81,308.41 111.99,314.63 122.17,322.94 132.35,311.43 142.53,303.12 152.72,332.00 162.90,327.66 173.08,299.16 183.26,315.96 193.44,301.05 203.62,322.18 213.80,296.90 223.98,313.13 234.16,307.28 244.34,313.13"/>
<polygon points="53.64,347.66 52.28,350.02 49.55,350.02 48.18,347.66 49.55,345.29 52.28,345.29" fill="#7D4E4E"/>
<polygon points="63.82,352.19 62.46,354.55 59.73,354.55 58.36,352.19 59.73,349.82 62.46,349.82" fill="#7D4E4E"/>
<polygon points="74.00,324.64 72.64,327.00 69.91,327.00 68.54,324.64 69.91,322.27 72.64,322.27" fill="#7D4E4E"/>
<polygon points="84.18,316.52 82.82,318.89 80.09,318.89 78.72,316.52 80.09,314.16 82.82,314.16" fill="#7D4E4E"/>
<polygon points="94.36,307.84 93.00,310.21 90.27,310.21 88.90,307.84 90.27,305.48 93.00,305.48" fill="#7D4E4E"/>
<polygon points="104.54,308.41 103.18,310.77 100.45,310.77 99.08,308.41 100.45,306.04 103.18,306.04" fill="#7D4E4E"/>
<polygon points="114.72,314.63 113.36,317.00 110.63,317.00 109.26,314.63 110.63,312.27 113.36,312.27" fill="#7D4E4E"/>
<polygon points="124.90,322.94 123.54,325.30 120.81,325.30 119.44,322.94 120.81,320.57 123.54,320.57" fill="#7D4E4E"/>
<polygon points="135.08,311.43 133.72,313.79 130.99,313.79 129.62,311.43 130.99,309.06 133.72,309.06" fill="#7D4E4E"/>
<polygon points="145.26,303.12 143.90,305.49 141.17,305.49 139.80,303.12 141.17,300.76 143.90,300.76" fill="#7D4E4E"/>
<polygon points="155.45,332.00 154.08,334.36 151.35,334.36 149.99,332.00 151.35,329.63 154.08,329.63" fill="#7D4E4E"/>
<polygon points="165.63,327.66 164.26,330.02 161.53,330.02 160.17,327.66 161.53,325.29 164.26,325.29" fill="#7D4E4E"/>
<polygon points="175.81,299.16 174.44,301.53 171.71,301.53 170.35,299.16 171.71,296.80 174.44,296.80" fill="#7D4E4E"/>
<polygon points="185.99,315.96 184.62,318.32 181.89,318.32 180.53,315.96 181.89,313.59 184.62,313.59" fill="#7D4E4E"/>
<polygon points="196.17,301.05 194.80,303.41 192.07,303.41 190.71,301.05 192.07,298.68 194.80,298.68" fill="#7D4E4E"/>
<polygon points="206.35,322.18 204.98,324.55 202.25,324.55 200.89,322.18 202.25,319.82 204.98,319.82" fill="#7D4E4E"/>
<polygon points="216.53,296.90 215.16,299.26 212.43,299.26 211.07,296.90 212.43,294.53 215.16,294.53" fill="#7D4E4E"/>
<polygon points="226.71,313.13 225.34,315.49 222.61,315.49 221.25,313.13 222.61,310.76 225.34,310.76" fill="#7D4E4E"/>
<polygon points="236.89,307.28 235.52,309.64 232.79,309.64 231.43,307.28 232.79,304.91 235.52,304.91" fill="#7D4E4E"/>
<polygon points="247.07,313.13 245.70,315.49 242.97,315.49 241.61,313.13 242.97,310.76 245.70,310.76" fill="#7D4E4E"/>
<polyline fill="none" stroke="#8E8E00" stroke-width="0.45" stroke-opacity="0.58" points="50.91,354.45 61.09,365.96 71.27,321.62 81.45,319.35 91.63,309.16 101.81,309.16 111.99,319.35 122.17,321.62 132.35,316.90 142.53,305.01 152.72,336.52 162.90,333.13 173.08,302.18 183.26,325.20 193.44,290.10 203.62,331.43 213.80,301.61 223.98,315.39 234.16,311.43 244.34,316.52"/>
<polygon points="50.91,351.98 51.55,353.57 53.26,353.69 51.95,354.79 52.36,356.45 50.91,355.54 49.46,356.45 49.87,354.79 48.56,353.69 50.27,353.57" fill="#8E8E00"/>
<polygon points="61.09,363.49 61.73,365.08 63.44,365.20 62.13,366.30 62.54,367.96 61.09,367.05 59.64,367.96 60.05,366.30 58.74,365.20 60.45,365.08" fill="#8E8E00"/>
<polygon points="71.27,319.15 71.91,320.73 73.62,320.85 72.31,321.95 72.72,323.61 71.27,322.71 69.82,323.61 70.23,321.95 68.92,320.85 70.63,320.73" fill="#8E8E00"/>
<polygon points="81.45,316.88 82.09,318.47 83.80,318.59 82.49,319.69 82.90,321.35 81.45,320.44 80.00,321.35 80.41,319.69 79.10,318.59 80.81,318.47" fill="#8E8E00"/>
<polygon points="91.63,306.69 92.27,308.28 93.98,308.40 92.67,309.50 93.08,311.16 91.63,310.25 90.18,311.16 90.59,309.50 89.28,308.40 90.99,308.28" fill="#8E8E00"/>
<polygon points="101.81,306.69 102.45,308.28 104.16,308.40 102.85,309.50 103.26,311.16 101.81,310.25 100.36,311.16 100.77,309.50 99.46,308.40 101.17,308.28" fill="#8E8E00"/>
<polygon points="111.99,316.88 112.64,318.47 114.34,318.59 113.03,319.69 113.45,321.35 111.99,320.44 110.54,321.35 110.95,319.69 109.64,318.59 111.35,318.47" fill="#8E8E00"/>
<polygon points="122.17,319.15 122.82,320.73 124.52,320.85 123.21,321.95 123.63,323.61 122.17,322.71 120.72,323.61 121.14,321.95 119.82,320.85 121.53,320.73" fill="#8E8E00"/>
<polygon points="132.35,314.43 133.00,316.02 134.70,316.14 133.39,317.24 133.81,318.90 132.35,317.99 130.90,318.90 131.32,317.24 130.01,316.14 131.71,316.02" fill="#8E8E00"/>
<polygon points="142.53,302.54 143.18,304.13 144.88,304.25 143.57,305.35 143.99,307.01 142.53,306.10 141.08,307.01 141.50,305.35 140.19,304.25 141.89,304.13" fill="#8E8E00"/>
<polygon points="152.72,334.05 153.36,335.64 155.06,335.76 153.75,336.86 154.17,338.52 152.72,337.62 151.26,338.52 151.68,336.86 150.37,335.76 152.07,335.64" fill="#8E8E00"/>
<polygon points="162.90,330.66 163.54,332.24 165.24,332.36 163.93,333.46 164.35,335.13 162.90,334.22 161.44,335.13 161.86,333.46 160.55,332.36 162.25,332.24" fill="#8E8E00"/>
<polygon points="173.08,299.71 173.72,301.30 175.43,301.42 174.11,302.52 174.53,304.18 173.08,303.27 171.62,304.18 172.04,302.52 170.73,301.42 172.43,301.30" fill="#8E8E00"/>
<polygon points="183.26,322.73 183.90,324.32 185.61,324.44 184.30,325.54 184.71,327.20 183.26,326.29 181.80,327.20 182.22,325.54 180.91,324.44 182.61,324.32" fill="#8E8E00"/>
<polygon points="193.44,287.63 194.08,289.22 195.79,289.34 194.48,290.44 194.89,292.10 193.44,291.20 191.99,292.10 192.40,290.44 191.09,289.34 192.80,289.22" fill="#8E8E00"/>
<polygon points="203.62,328.96 204.26,330.55 205.97,330.67 204.66,331.77 205.07,333.43 203.62,332.52 202.17,333.43 202.58,331.77 201.27,330.67 202.98,330.55" fill="#8E8E00"/>
<polygon points="213.80,299.14 214.44,300.73 216.15,300.85 214.84,301.95 215.25,303.61 213.80,302.71 212.35,303.61 212.76,301.95 211.45,300.85 213.16,300.73" fill="#8E8E00"/>
<polygon points="223.98,312.92 224.62,314.51 226.33,314.63 225.02,315.73 225.43,317.39 223.98,316.48 222.53,317.39 222.94,315.73 221.63,314.63 223.34,314.51" fill="#8E8E00"/>
<polygon points="234.16,308.96 234.80,310.54 236.51,310.66 235.20,311.76 235.61,313.43 234.16,312.52 232.71,313.43 233.12,311.76 231.81,310.66 233.52,310.54" fill="#8E8E00"/>
<polygon points="244.34,314.05 244.98,315.64 246.69,315.76 245.38,316.86 245.79,318.52 244.34,317.61 242.89,318.52 243.30,316.86 241.99,315.76 243.70,315.64" fill="#8E8E00"/>
<polyline fill="none" stroke="#FB6501" stroke-width="0.45" stroke-opacity="0.58" points="50.91,344.64 61.09,332.75 71.27,311.43 81.45,313.88 91.63,306.14 101.81,300.86 111.99,313.13 122.17,324.07 132.35,315.39 142.53,296.90 152.72,328.03 162.90,323.50 173.08,297.65 183.26,319.92 193.44,292.93 203.62,315.39 213.80,284.25 223.98,311.43 234.16,305.01 244.34,311.43"/>
<polygon points="50.91,341.78 53.63,343.75 52.59,346.95 49.23,346.95 48.19,343.75" fill="#FB6501"/>
<polygon points="61.09,329.89 63.81,331.87 62.77,335.06 59.41,335.06 58.37,331.87" fill="#FB6501"/>
<polygon points="71.27,308.57 73.99,310.54 72.95,313.74 69.59,313.74 68.55,310.54" fill="#FB6501"/>
<polygon points="81.45,311.02 84.17,313.00 83.13,316.19 79.77,316.19 78.73,313.00" fill="#FB6501"/>
<polygon points="91.63,303.28 94.35,305.26 93.31,308.46 89.95,308.46 88.91,305.26" fill="#FB6501"/>
<polygon points="101.81,298.00 104.53,299.98 103.49,303.17 100.13,303.17 99.09,299.98" fill="#FB6501"/>
<polygon points="111.99,310.27 114.71,312.24 113.67,315.44 110.31,315.44 109.27,312.24" fill="#FB6501"/>
<polygon points="122.17,321.21 124.89,323.19 123.85,326.38 120.49,326.38 119.45,323.19" fill="#FB6501"/>
<polygon points="132.35,312.53 135.07,314.51 134.04,317.70 130.67,317.70 129.63,314.51" fill="#FB6501"/>
<polygon points="142.53,294.04 145.25,296.01 144.22,299.21 140.85,299.21 139.81,296.01" fill="#FB6501"/>
<polygon points="152.72,325.17 155.44,327.15 154.40,330.35 151.03,330.35 150.00,327.15" fill="#FB6501"/>
<polygon points="162.90,320.64 165.62,322.62 164.58,325.82 161.21,325.82 160.18,322.62" fill="#FB6501"/>
<polygon points="173.08,294.79 175.80,296.77 174.76,299.97 171.40,299.97 170.36,296.77" fill="#FB6501"/>
<polygon points="183.26,317.06 185.98,319.03 184.94,322.23 181.58,322.23 180.54,319.03" fill="#FB6501"/>
<polygon points="193.44,290.07 196.16,292.05 195.12,295.25 191.76,295.25 190.72,292.05" fill="#FB6501"/>
<polygon points="203.62,312.53 206.34,314.51 205.30,317.70 201.94,317.70 200.90,314.51" fill="#FB6501"/>
<polygon points="213.80,281.39 216.52,283.37 215.48,286.57 212.12,286.57 211.08,283.37" fill="#FB6501"/>
<polygon points="223.98,308.57 226.70,310.54 225.66,313.74 222.30,313.74 221.26,310.54" fill="#FB6501"/>
<polygon points="234.16,302.15 236.88,304.13 235.84,307.32 232.48,307.32 231.44,304.13" fill="#FB6501"/>
<polygon points="244.34,308.57 247.06,310.54 246.02,313.74 242.66,313.74 241.62,310.54" fill="#FB6501"/>
<rect x="30.55" y="247.90" width="234.15" height="188.60" fill="none" stroke="#484848" stroke-width="1.15"/>
<path d="M40.73 436.50V433.30M61.09 436.50V433.30M81.45 436.50V433.30M101.81 436.50V433.30M122.17 436.50V433.30M142.53 436.50V433.30M162.90 436.50V433.30M183.26 436.50V433.30M203.62 436.50V433.30M223.98 436.50V433.30M244.34 436.50V433.30M264.70 436.50V433.30M50.91 436.50V434.90M71.27 436.50V434.90M91.63 436.50V434.90M111.99 436.50V434.90M132.35 436.50V434.90M152.72 436.50V434.90M173.08 436.50V434.90M193.44 436.50V434.90M213.80 436.50V434.90M234.16 436.50V434.90M254.52 436.50V434.90M30.55 427.10H33.75M30.55 408.23H33.75M30.55 389.36H33.75M30.55 370.49H33.75M30.55 351.62H33.75M30.55 332.75H33.75M30.55 313.88H33.75M30.55 295.01H33.75M30.55 276.14H33.75M30.55 257.27H33.75M30.55 417.67H32.15M30.55 398.80H32.15M30.55 379.93H32.15M30.55 361.06H32.15M30.55 342.19H32.15M30.55 323.31H32.15M30.55 304.45H32.15M30.55 285.58H32.15M30.55 266.71H32.15" stroke="#484848" stroke-width="0.9" fill="none"/>
<text x="40.73" y="446.50" text-anchor="middle" font-size="7.2" stroke-width="0.05" fill="#1a1a1a">0</text>
<text x="61.09" y="446.50" text-anchor="middle" font-size="7.2" stroke-width="0.05" fill="#1a1a1a">2</text>
<text x="81.45" y="446.50" text-anchor="middle" font-size="7.2" stroke-width="0.05" fill="#1a1a1a">4</text>
<text x="101.81" y="446.50" text-anchor="middle" font-size="7.2" stroke-width="0.05" fill="#1a1a1a">6</text>
<text x="122.17" y="446.50" text-anchor="middle" font-size="7.2" stroke-width="0.05" fill="#1a1a1a">8</text>
<text x="142.53" y="446.50" text-anchor="middle" font-size="7.2" stroke-width="0.05" fill="#1a1a1a">10</text>
<text x="162.90" y="446.50" text-anchor="middle" font-size="7.2" stroke-width="0.05" fill="#1a1a1a">12</text>
<text x="183.26" y="446.50" text-anchor="middle" font-size="7.2" stroke-width="0.05" fill="#1a1a1a">14</text>
<text x="203.62" y="446.50" text-anchor="middle" font-size="7.2" stroke-width="0.05" fill="#1a1a1a">16</text>
<text x="223.98" y="446.50" text-anchor="middle" font-size="7.2" stroke-width="0.05" fill="#1a1a1a">18</text>
<text x="244.34" y="446.50" text-anchor="middle" font-size="7.2" stroke-width="0.05" fill="#1a1a1a">20</text>
<text x="264.70" y="446.50" text-anchor="middle" font-size="7.2" stroke-width="0.05" fill="#1a1a1a">22</text>
<text x="26.35" y="429.55" text-anchor="end" font-size="7.2" stroke-width="0.05" fill="#1a1a1a">7</text>
<text x="26.35" y="410.68" text-anchor="end" font-size="7.2" stroke-width="0.05" fill="#1a1a1a">8</text>
<text x="26.35" y="391.81" text-anchor="end" font-size="7.2" stroke-width="0.05" fill="#1a1a1a">9</text>
<text x="26.35" y="372.94" text-anchor="end" font-size="7.2" stroke-width="0.05" fill="#1a1a1a">10</text>
<text x="26.35" y="354.07" text-anchor="end" font-size="7.2" stroke-width="0.05" fill="#1a1a1a">11</text>
<text x="26.35" y="335.20" text-anchor="end" font-size="7.2" stroke-width="0.05" fill="#1a1a1a">12</text>
<text x="26.35" y="316.33" text-anchor="end" font-size="7.2" stroke-width="0.05" fill="#1a1a1a">13</text>
<text x="26.35" y="297.46" text-anchor="end" font-size="7.2" stroke-width="0.05" fill="#1a1a1a">14</text>
<text x="26.35" y="278.59" text-anchor="end" font-size="7.2" stroke-width="0.05" fill="#1a1a1a">15</text>
<text x="26.35" y="259.72" text-anchor="end" font-size="7.2" stroke-width="0.05" fill="#1a1a1a">16</text>
<text x="147.70" y="462.50" text-anchor="middle" font-size="9.8" fill="#1a1a1a">Image pairs</text>
<text transform="translate(14.00 342.20) rotate(-90)" text-anchor="middle" font-size="9.7" fill="#1a1a1a">Values of SF</text>
<rect x="39.50" y="249.80" width="219.41" height="16.20" fill="#fff" stroke="#484848" stroke-width="0.6"/>
<line x1="42.13" y1="253.95" x2="55.70" y2="253.95" stroke="#515151" stroke-width="0.45" stroke-opacity="0.58"/>
<rect x="46.89" y="251.93" width="4.04" height="4.04" fill="#515151"/>
<text x="57.83" y="256.03" font-size="6.18" fill="#1a1a1a">DWT</text>
<line x1="88.71" y1="253.95" x2="102.27" y2="253.95" stroke="#F14040" stroke-width="0.45" stroke-opacity="0.58"/>
<circle cx="95.49" cy="253.95" r="2.38" fill="#F14040"/>
<text x="104.40" y="256.03" font-size="6.18" fill="#1a1a1a">DenseFuse</text>
<line x1="133.16" y1="253.95" x2="146.72" y2="253.95" stroke="#1A6FDF" stroke-width="0.45" stroke-opacity="0.58"/>
<polygon points="139.94,251.45 142.44,255.85 137.44,255.85" fill="#1A6FDF"/>
<text x="148.85" y="256.03" font-size="6.18" fill="#1a1a1a">GTF</text>
<line x1="173.66" y1="253.95" x2="187.22" y2="253.95" stroke="#37AD6B" stroke-width="0.45" stroke-opacity="0.58"/>
<polygon points="180.44,256.45 182.94,252.05 177.94,252.05" fill="#37AD6B"/>
<text x="189.35" y="256.03" font-size="6.18" fill="#1a1a1a">CNN</text>
<line x1="219.72" y1="253.95" x2="233.29" y2="253.95" stroke="#B177DE" stroke-width="0.45" stroke-opacity="0.58"/>
<polygon points="226.51,251.33 229.13,253.95 226.51,256.57 223.89,253.95" fill="#B177DE"/>
<text x="235.42" y="256.03" font-size="6.18" fill="#1a1a1a">NestFuse</text>
<line x1="42.13" y1="261.75" x2="55.70" y2="261.75" stroke="#CC9900" stroke-width="0.45" stroke-opacity="0.58"/>
<polygon points="46.42,261.75 50.82,259.25 50.82,264.25" fill="#CC9900"/>
<text x="57.83" y="263.82" font-size="6.18" fill="#1a1a1a">FusionGAN</text>
<line x1="88.71" y1="261.75" x2="102.27" y2="261.75" stroke="#00CBCC" stroke-width="0.45" stroke-opacity="0.58"/>
<polygon points="97.99,261.75 93.59,259.25 93.59,264.25" fill="#00CBCC"/>
<text x="104.40" y="263.82" font-size="6.18" fill="#1a1a1a">DIDFuse</text>
<line x1="133.16" y1="261.75" x2="146.72" y2="261.75" stroke="#7D4E4E" stroke-width="0.45" stroke-opacity="0.58"/>
<polygon points="142.44,261.75 141.19,263.91 138.69,263.91 137.44,261.75 138.69,259.58 141.19,259.58" fill="#7D4E4E"/>
<text x="148.85" y="263.82" font-size="6.18" fill="#1a1a1a">SwinFuse</text>
<line x1="173.66" y1="261.75" x2="187.22" y2="261.75" stroke="#8E8E00" stroke-width="0.45" stroke-opacity="0.58"/>
<polygon points="180.44,259.49 181.03,260.94 182.59,261.05 181.39,262.06 181.77,263.58 180.44,262.75 179.11,263.58 179.49,262.06 178.29,261.05 179.85,260.94" fill="#8E8E00"/>
<text x="189.35" y="263.82" font-size="6.18" fill="#1a1a1a">MUFusion</text>
<line x1="219.72" y1="261.75" x2="233.29" y2="261.75" stroke="#FB6501" stroke-width="0.45" stroke-opacity="0.58"/>
<polygon points="226.51,259.13 229.00,260.94 228.05,263.86 224.97,263.86 224.02,260.94" fill="#FB6501"/>
<text x="235.42" y="263.82" font-size="6.18" fill="#1a1a1a">DCF</text>
<text x="121.10" y="481.80" font-size="14.3" fill="#111" stroke-width="0.1" textLength="33.2" lengthAdjust="spacingAndGlyphs">(<tspan font-weight="bold">c</tspan>) SF</text></g>
<g id="chart-d"><polyline fill="none" stroke="#515151" stroke-width="0.45" stroke-opacity="0.58" points="329.98,335.08 340.04,355.77 350.10,395.16 360.17,318.88 370.23,345.55 380.29,314.14 390.35,331.59 400.42,302.67 410.48,303.92 420.54,306.91 430.61,399.15 440.67,316.63 450.73,322.87 460.80,311.90 470.86,304.92 480.92,337.33 490.98,355.77 501.05,351.54 511.11,329.35 521.17,335.08"/>
<rect x="327.77" y="332.87" width="4.42" height="4.42" fill="#515151"/>
<rect x="337.83" y="353.56" width="4.42" height="4.42" fill="#515151"/>
<rect x="347.89" y="392.95" width="4.42" height="4.42" fill="#515151"/>
<rect x="357.96" y="316.67" width="4.42" height="4.42" fill="#515151"/>
<rect x="368.02" y="343.34" width="4.42" height="4.42" fill="#515151"/>
<rect x="378.08" y="311.93" width="4.42" height="4.42" fill="#515151"/>
<rect x="388.14" y="329.38" width="4.42" height="4.42" fill="#515151"/>
<rect x="398.21" y="300.46" width="4.42" height="4.42" fill="#515151"/>
<rect x="408.27" y="301.71" width="4.42" height="4.42" fill="#515151"/>
<rect x="418.33" y="304.70" width="4.42" height="4.42" fill="#515151"/>
<rect x="428.40" y="396.94" width="4.42" height="4.42" fill="#515151"/>
<rect x="438.46" y="314.42" width="4.42" height="4.42" fill="#515151"/>
<rect x="448.52" y="320.66" width="4.42" height="4.42" fill="#515151"/>
<rect x="458.59" y="309.69" width="4.42" height="4.42" fill="#515151"/>
<rect x="468.65" y="302.71" width="4.42" height="4.42" fill="#515151"/>
<rect x="478.71" y="335.12" width="4.42" height="4.42" fill="#515151"/>
<rect x="488.77" y="353.56" width="4.42" height="4.42" fill="#515151"/>
<rect x="498.84" y="349.33" width="4.42" height="4.42" fill="#515151"/>
<rect x="508.90" y="327.14" width="4.42" height="4.42" fill="#515151"/>
<rect x="518.96" y="332.87" width="4.42" height="4.42" fill="#515151"/>
<polyline fill="none" stroke="#F14040" stroke-width="0.45" stroke-opacity="0.58" points="329.98,350.79 340.04,363.25 350.10,417.10 360.17,351.79 370.23,364.50 380.29,340.82 390.35,352.28 400.42,335.08 410.48,326.86 420.54,329.35 430.61,417.35 440.67,336.58 450.73,345.80 460.80,335.58 470.86,324.11 480.92,336.08 490.98,387.69 501.05,385.94 511.11,357.52 521.17,316.63"/>
<circle cx="329.98" cy="350.79" r="2.60" fill="#F14040"/>
<circle cx="340.04" cy="363.25" r="2.60" fill="#F14040"/>
<circle cx="350.10" cy="417.10" r="2.60" fill="#F14040"/>
<circle cx="360.17" cy="351.79" r="2.60" fill="#F14040"/>
<circle cx="370.23" cy="364.50" r="2.60" fill="#F14040"/>
<circle cx="380.29" cy="340.82" r="2.60" fill="#F14040"/>
<circle cx="390.35" cy="352.28" r="2.60" fill="#F14040"/>
<circle cx="400.42" cy="335.08" r="2.60" fill="#F14040"/>
<circle cx="410.48" cy="326.86" r="2.60" fill="#F14040"/>
<circle cx="420.54" cy="329.35" r="2.60" fill="#F14040"/>
<circle cx="430.61" cy="417.35" r="2.60" fill="#F14040"/>
<circle cx="440.67" cy="336.58" r="2.60" fill="#F14040"/>
<circle cx="450.73" cy="345.80" r="2.60" fill="#F14040"/>
<circle cx="460.80" cy="335.58" r="2.60" fill="#F14040"/>
<circle cx="470.86" cy="324.11" r="2.60" fill="#F14040"/>
<circle cx="480.92" cy="336.08" r="2.60" fill="#F14040"/>
<circle cx="490.98" cy="387.69" r="2.60" fill="#F14040"/>
<circle cx="501.05" cy="385.94" r="2.60" fill="#F14040"/>
<circle cx="511.11" cy="357.52" r="2.60" fill="#F14040"/>
<circle cx="521.17" cy="316.63" r="2.60" fill="#F14040"/>
<polyline fill="none" stroke="#1A6FDF" stroke-width="0.45" stroke-opacity="0.58" points="329.98,336.08 340.04,365.00 350.10,407.13 360.17,351.29 370.23,356.27 380.29,328.85 390.35,336.08 400.42,320.12 410.48,320.12 420.54,394.67 430.61,335.08 440.67,332.34 450.73,326.36 460.80,315.39 470.86,329.35 480.92,370.98 490.98,372.48 501.05,350.04 511.11,316.14 521.17,309.16"/>
<polygon points="329.98,333.35 332.71,338.16 327.25,338.16" fill="#1A6FDF"/>
<polygon points="340.04,362.27 342.77,367.08 337.31,367.08" fill="#1A6FDF"/>
<polygon points="350.10,404.40 352.83,409.21 347.37,409.21" fill="#1A6FDF"/>
<polygon points="360.17,348.56 362.90,353.37 357.44,353.37" fill="#1A6FDF"/>
<polygon points="370.23,353.54 372.96,358.35 367.50,358.35" fill="#1A6FDF"/>
<polygon points="380.29,326.12 383.02,330.93 377.56,330.93" fill="#1A6FDF"/>
<polygon points="390.35,333.35 393.08,338.16 387.62,338.16" fill="#1A6FDF"/>
<polygon points="400.42,317.39 403.15,322.20 397.69,322.20" fill="#1A6FDF"/>
<polygon points="410.48,317.39 413.21,322.20 407.75,322.20" fill="#1A6FDF"/>
<polygon points="420.54,391.94 423.27,396.75 417.81,396.75" fill="#1A6FDF"/>
<polygon points="430.61,332.35 433.34,337.16 427.88,337.16" fill="#1A6FDF"/>
<polygon points="440.67,329.61 443.40,334.42 437.94,334.42" fill="#1A6FDF"/>
<polygon points="450.73,323.63 453.46,328.44 448.00,328.44" fill="#1A6FDF"/>
<polygon points="460.80,312.66 463.53,317.47 458.07,317.47" fill="#1A6FDF"/>
<polygon points="470.86,326.62 473.59,331.43 468.13,331.43" fill="#1A6FDF"/>
<polygon points="480.92,368.25 483.65,373.06 478.19,373.06" fill="#1A6FDF"/>
<polygon points="490.98,369.75 493.71,374.56 488.25,374.56" fill="#1A6FDF"/>
<polygon points="501.05,347.31 503.78,352.12 498.32,352.12" fill="#1A6FDF"/>
<polygon points="511.11,313.41 513.84,318.22 508.38,318.22" fill="#1A6FDF"/>
<polygon points="521.17,306.43 523.90,311.24 518.44,311.24" fill="#1A6FDF"/>
<polyline fill="none" stroke="#37AD6B" stroke-width="0.45" stroke-opacity="0.58" points="329.98,366.25 340.04,412.37 350.10,347.80 360.17,371.23 370.23,341.32 380.29,353.03 390.35,339.57 400.42,339.57 410.48,341.56 420.54,408.38 430.61,337.33 440.67,333.84 450.73,337.33 460.80,328.60 470.86,328.60 480.92,306.16 490.98,385.19 501.05,385.44 511.11,362.76 521.17,330.35"/>
<polygon points="329.98,368.98 332.71,364.17 327.25,364.17" fill="#37AD6B"/>
<polygon points="340.04,415.10 342.77,410.29 337.31,410.29" fill="#37AD6B"/>
<polygon points="350.10,350.53 352.83,345.72 347.37,345.72" fill="#37AD6B"/>
<polygon points="360.17,373.96 362.90,369.15 357.44,369.15" fill="#37AD6B"/>
<polygon points="370.23,344.05 372.96,339.24 367.50,339.24" fill="#37AD6B"/>
<polygon points="380.29,355.76 383.02,350.95 377.56,350.95" fill="#37AD6B"/>
<polygon points="390.35,342.30 393.08,337.49 387.62,337.49" fill="#37AD6B"/>
<polygon points="400.42,342.30 403.15,337.49 397.69,337.49" fill="#37AD6B"/>
<polygon points="410.48,344.29 413.21,339.48 407.75,339.48" fill="#37AD6B"/>
<polygon points="420.54,411.11 423.27,406.30 417.81,406.30" fill="#37AD6B"/>
<polygon points="430.61,340.06 433.34,335.25 427.88,335.25" fill="#37AD6B"/>
<polygon points="440.67,336.57 443.40,331.76 437.94,331.76" fill="#37AD6B"/>
<polygon points="450.73,340.06 453.46,335.25 448.00,335.25" fill="#37AD6B"/>
<polygon points="460.80,331.33 463.53,326.52 458.07,326.52" fill="#37AD6B"/>
<polygon points="470.86,331.33 473.59,326.52 468.13,326.52" fill="#37AD6B"/>
<polygon points="480.92,308.89 483.65,304.08 478.19,304.08" fill="#37AD6B"/>
<polygon points="490.98,387.92 493.71,383.11 488.25,383.11" fill="#37AD6B"/>
<polygon points="501.05,388.17 503.78,383.36 498.32,383.36" fill="#37AD6B"/>
<polygon points="511.11,365.49 513.84,360.68 508.38,360.68" fill="#37AD6B"/>
<polygon points="521.17,333.08 523.90,328.27 518.44,328.27" fill="#37AD6B"/>
<polyline fill="none" stroke="#B177DE" stroke-width="0.45" stroke-opacity="0.58" points="329.98,322.87 340.04,367.74 350.10,369.74 360.17,308.16 370.23,319.63 380.29,326.86 390.35,305.42 400.42,286.22 410.48,311.15 420.54,307.91 430.61,386.19 440.67,311.15 450.73,319.38 460.80,313.14 470.86,306.16 480.92,292.95 490.98,335.08 501.05,343.06 511.11,321.12 521.17,309.65"/>
<polygon points="329.98,320.01 332.84,322.87 329.98,325.73 327.12,322.87" fill="#B177DE"/>
<polygon points="340.04,364.88 342.90,367.74 340.04,370.60 337.18,367.74" fill="#B177DE"/>
<polygon points="350.10,366.88 352.96,369.74 350.10,372.60 347.24,369.74" fill="#B177DE"/>
<polygon points="360.17,305.30 363.03,308.16 360.17,311.02 357.31,308.16" fill="#B177DE"/>
<polygon points="370.23,316.77 373.09,319.63 370.23,322.49 367.37,319.63" fill="#B177DE"/>
<polygon points="380.29,324.00 383.15,326.86 380.29,329.72 377.43,326.86" fill="#B177DE"/>
<polygon points="390.35,302.56 393.21,305.42 390.35,308.28 387.49,305.42" fill="#B177DE"/>
<polygon points="400.42,283.36 403.28,286.22 400.42,289.08 397.56,286.22" fill="#B177DE"/>
<polygon points="410.48,308.29 413.34,311.15 410.48,314.01 407.62,311.15" fill="#B177DE"/>
<polygon points="420.54,305.05 423.40,307.91 420.54,310.77 417.68,307.91" fill="#B177DE"/>
<polygon points="430.61,383.33 433.47,386.19 430.61,389.05 427.75,386.19" fill="#B177DE"/>
<polygon points="440.67,308.29 443.53,311.15 440.67,314.01 437.81,311.15" fill="#B177DE"/>
<polygon points="450.73,316.52 453.59,319.38 450.73,322.24 447.87,319.38" fill="#B177DE"/>
<polygon points="460.80,310.28 463.66,313.14 460.80,316.00 457.94,313.14" fill="#B177DE"/>
<polygon points="470.86,303.30 473.72,306.16 470.86,309.02 468.00,306.16" fill="#B177DE"/>
<polygon points="480.92,290.09 483.78,292.95 480.92,295.81 478.06,292.95" fill="#B177DE"/>
<polygon points="490.98,332.22 493.84,335.08 490.98,337.94 488.12,335.08" fill="#B177DE"/>
<polygon points="501.05,340.20 503.91,343.06 501.05,345.92 498.19,343.06" fill="#B177DE"/>
<polygon points="511.11,318.26 513.97,321.12 511.11,323.98 508.25,321.12" fill="#B177DE"/>
<polygon points="521.17,306.79 524.03,309.65 521.17,312.51 518.31,309.65" fill="#B177DE"/>
<polyline fill="none" stroke="#CC9900" stroke-width="0.45" stroke-opacity="0.58" points="329.98,333.84 340.04,358.52 350.10,349.29 360.17,345.55 370.23,376.72 380.29,337.33 390.35,358.77 400.42,337.33 410.48,340.07 420.54,335.08 430.61,340.07 440.67,326.36 450.73,361.01 460.80,336.58 470.86,318.38 480.92,337.33 490.98,355.28 501.05,347.80 511.11,364.00 521.17,336.58"/>
<polygon points="327.25,333.84 332.06,331.11 332.06,336.57" fill="#CC9900"/>
<polygon points="337.31,358.52 342.12,355.79 342.12,361.25" fill="#CC9900"/>
<polygon points="347.37,349.29 352.18,346.56 352.18,352.02" fill="#CC9900"/>
<polygon points="357.44,345.55 362.25,342.82 362.25,348.28" fill="#CC9900"/>
<polygon points="367.50,376.72 372.31,373.99 372.31,379.45" fill="#CC9900"/>
<polygon points="377.56,337.33 382.37,334.60 382.37,340.06" fill="#CC9900"/>
<polygon points="387.62,358.77 392.43,356.04 392.43,361.50" fill="#CC9900"/>
<polygon points="397.69,337.33 402.50,334.60 402.50,340.06" fill="#CC9900"/>
<polygon points="407.75,340.07 412.56,337.34 412.56,342.80" fill="#CC9900"/>
<polygon points="417.81,335.08 422.62,332.35 422.62,337.81" fill="#CC9900"/>
<polygon points="427.88,340.07 432.69,337.34 432.69,342.80" fill="#CC9900"/>
<polygon points="437.94,326.36 442.75,323.63 442.75,329.09" fill="#CC9900"/>
<polygon points="448.00,361.01 452.81,358.28 452.81,363.74" fill="#CC9900"/>
<polygon points="458.07,336.58 462.88,333.85 462.88,339.31" fill="#CC9900"/>
<polygon points="468.13,318.38 472.94,315.65 472.94,321.11" fill="#CC9900"/>
<polygon points="478.19,337.33 483.00,334.60 483.00,340.06" fill="#CC9900"/>
<polygon points="488.25,355.28 493.06,352.55 493.06,358.01" fill="#CC9900"/>
<polygon points="498.32,347.80 503.13,345.07 503.13,350.53" fill="#CC9900"/>
<polygon points="508.38,364.00 513.19,361.27 513.19,366.73" fill="#CC9900"/>
<polygon points="518.44,336.58 523.25,333.85 523.25,339.31" fill="#CC9900"/>
<polyline fill="none" stroke="#00CBCC" stroke-width="0.45" stroke-opacity="0.58" points="329.98,336.58 340.04,354.78 350.10,391.18 360.17,324.11 370.23,349.54 380.29,320.62 390.35,337.33 400.42,310.40 410.48,307.66 420.54,309.16 430.61,375.97 440.67,322.87 450.73,321.62 460.80,316.63 470.86,314.14 480.92,305.42 490.98,362.76 501.05,359.26 511.11,340.32 521.17,310.90"/>
<polygon points="332.71,336.58 327.90,333.85 327.90,339.31" fill="#00CBCC"/>
<polygon points="342.77,354.78 337.96,352.05 337.96,357.51" fill="#00CBCC"/>
<polygon points="352.83,391.18 348.02,388.45 348.02,393.91" fill="#00CBCC"/>
<polygon points="362.90,324.11 358.09,321.38 358.09,326.84" fill="#00CBCC"/>
<polygon points="372.96,349.54 368.15,346.81 368.15,352.27" fill="#00CBCC"/>
<polygon points="383.02,320.62 378.21,317.89 378.21,323.35" fill="#00CBCC"/>
<polygon points="393.08,337.33 388.27,334.60 388.27,340.06" fill="#00CBCC"/>
<polygon points="403.15,310.40 398.34,307.67 398.34,313.13" fill="#00CBCC"/>
<polygon points="413.21,307.66 408.40,304.93 408.40,310.39" fill="#00CBCC"/>
<polygon points="423.27,309.16 418.46,306.43 418.46,311.89" fill="#00CBCC"/>
<polygon points="433.34,375.97 428.53,373.24 428.53,378.70" fill="#00CBCC"/>
<polygon points="443.40,322.87 438.59,320.14 438.59,325.60" fill="#00CBCC"/>
<polygon points="453.46,321.62 448.65,318.89 448.65,324.35" fill="#00CBCC"/>
<polygon points="463.53,316.63 458.72,313.90 458.72,319.36" fill="#00CBCC"/>
<polygon points="473.59,314.14 468.78,311.41 468.78,316.87" fill="#00CBCC"/>
<polygon points="483.65,305.42 478.84,302.69 478.84,308.15" fill="#00CBCC"/>
<polygon points="493.71,362.76 488.90,360.03 488.90,365.49" fill="#00CBCC"/>
<polygon points="503.78,359.26 498.97,356.53 498.97,361.99" fill="#00CBCC"/>
<polygon points="513.84,340.32 509.03,337.59 509.03,343.05" fill="#00CBCC"/>
<polygon points="523.90,310.90 519.09,308.17 519.09,313.63" fill="#00CBCC"/>
<polyline fill="none" stroke="#7D4E4E" stroke-width="0.45" stroke-opacity="0.58" points="329.98,370.48 340.04,357.02 350.10,336.58 360.17,330.84 370.23,330.84 380.29,324.61 390.35,333.34 400.42,329.85 410.48,333.34 420.54,317.63 430.61,357.02 440.67,352.78 450.73,322.87 460.80,344.31 470.86,311.90 480.92,337.33 490.98,302.67 501.05,343.81 511.11,333.84 521.17,341.56"/>
<polygon points="332.71,370.48 331.34,372.85 328.61,372.85 327.25,370.48 328.61,368.12 331.34,368.12" fill="#7D4E4E"/>
<polygon points="342.77,357.02 341.40,359.39 338.67,359.39 337.31,357.02 338.67,354.66 341.40,354.66" fill="#7D4E4E"/>
<polygon points="352.83,336.58 351.47,338.94 348.74,338.94 347.37,336.58 348.74,334.21 351.47,334.21" fill="#7D4E4E"/>
<polygon points="362.90,330.84 361.53,333.21 358.80,333.21 357.44,330.84 358.80,328.48 361.53,328.48" fill="#7D4E4E"/>
<polygon points="372.96,330.84 371.59,333.21 368.86,333.21 367.50,330.84 368.86,328.48 371.59,328.48" fill="#7D4E4E"/>
<polygon points="383.02,324.61 381.66,326.98 378.93,326.98 377.56,324.61 378.93,322.25 381.66,322.25" fill="#7D4E4E"/>
<polygon points="393.08,333.34 391.72,335.70 388.99,335.70 387.62,333.34 388.99,330.97 391.72,330.97" fill="#7D4E4E"/>
<polygon points="403.15,329.85 401.78,332.21 399.05,332.21 397.69,329.85 399.05,327.48 401.78,327.48" fill="#7D4E4E"/>
<polygon points="413.21,333.34 411.85,335.70 409.12,335.70 407.75,333.34 409.12,330.97 411.85,330.97" fill="#7D4E4E"/>
<polygon points="423.27,317.63 421.91,320.00 419.18,320.00 417.81,317.63 419.18,315.27 421.91,315.27" fill="#7D4E4E"/>
<polygon points="433.34,357.02 431.97,359.39 429.24,359.39 427.88,357.02 429.24,354.66 431.97,354.66" fill="#7D4E4E"/>
<polygon points="443.40,352.78 442.03,355.15 439.30,355.15 437.94,352.78 439.30,350.42 442.03,350.42" fill="#7D4E4E"/>
<polygon points="453.46,322.87 452.10,325.23 449.37,325.23 448.00,322.87 449.37,320.50 452.10,320.50" fill="#7D4E4E"/>
<polygon points="463.53,344.31 462.16,346.67 459.43,346.67 458.07,344.31 459.43,341.94 462.16,341.94" fill="#7D4E4E"/>
<polygon points="473.59,311.90 472.22,314.26 469.49,314.26 468.13,311.90 469.49,309.53 472.22,309.53" fill="#7D4E4E"/>
<polygon points="483.65,337.33 482.29,339.69 479.56,339.69 478.19,337.33 479.56,334.96 482.29,334.96" fill="#7D4E4E"/>
<polygon points="493.71,302.67 492.35,305.04 489.62,305.04 488.25,302.67 489.62,300.31 492.35,300.31" fill="#7D4E4E"/>
<polygon points="503.78,343.81 502.41,346.17 499.68,346.17 498.32,343.81 499.68,341.44 502.41,341.44" fill="#7D4E4E"/>
<polygon points="513.84,333.84 512.48,336.20 509.75,336.20 508.38,333.84 509.75,331.47 512.48,331.47" fill="#7D4E4E"/>
<polygon points="523.90,341.56 522.54,343.93 519.81,343.93 518.44,341.56 519.81,339.20 522.54,339.20" fill="#7D4E4E"/>
<polyline fill="none" stroke="#8E8E00" stroke-width="0.45" stroke-opacity="0.58" points="329.98,345.80 340.04,336.58 350.10,322.37 360.17,318.88 370.23,299.18 380.29,304.92 390.35,314.89 400.42,320.12 410.48,318.88 420.54,302.67 430.61,320.12 440.67,289.96 450.73,288.46 460.80,310.90 470.86,308.66 480.92,302.67 490.98,295.44 501.05,289.21 511.11,285.47 521.17,279.74"/>
<polygon points="329.98,343.33 330.62,344.92 332.33,345.04 331.01,346.14 331.43,347.80 329.98,346.89 328.52,347.80 328.94,346.14 327.63,345.04 329.33,344.92" fill="#8E8E00"/>
<polygon points="340.04,334.11 340.68,335.70 342.39,335.82 341.08,336.92 341.49,338.58 340.04,337.67 338.59,338.58 339.00,336.92 337.69,335.82 339.40,335.70" fill="#8E8E00"/>
<polygon points="350.10,319.90 350.74,321.49 352.45,321.61 351.14,322.71 351.55,324.37 350.10,323.46 348.65,324.37 349.06,322.71 347.75,321.61 349.46,321.49" fill="#8E8E00"/>
<polygon points="360.17,316.41 360.81,317.99 362.51,318.12 361.20,319.22 361.62,320.88 360.17,319.97 358.71,320.88 359.13,319.22 357.82,318.12 359.52,317.99" fill="#8E8E00"/>
<polygon points="370.23,296.71 370.87,298.30 372.58,298.42 371.27,299.52 371.68,301.18 370.23,300.28 368.78,301.18 369.19,299.52 367.88,298.42 369.59,298.30" fill="#8E8E00"/>
<polygon points="380.29,302.45 380.93,304.03 382.64,304.15 381.33,305.25 381.74,306.92 380.29,306.01 378.84,306.92 379.25,305.25 377.94,304.15 379.65,304.03" fill="#8E8E00"/>
<polygon points="390.35,312.42 391.00,314.01 392.70,314.13 391.39,315.23 391.81,316.89 390.35,315.98 388.90,316.89 389.32,315.23 388.01,314.13 389.71,314.01" fill="#8E8E00"/>
<polygon points="400.42,317.65 401.06,319.24 402.77,319.36 401.46,320.46 401.87,322.12 400.42,321.22 398.97,322.12 399.38,320.46 398.07,319.36 399.78,319.24" fill="#8E8E00"/>
<polygon points="410.48,316.41 411.12,317.99 412.83,318.12 411.52,319.22 411.93,320.88 410.48,319.97 409.03,320.88 409.44,319.22 408.13,318.12 409.84,317.99" fill="#8E8E00"/>
<polygon points="420.54,300.20 421.19,301.79 422.89,301.91 421.58,303.01 422.00,304.67 420.54,303.77 419.09,304.67 419.50,303.01 418.19,301.91 419.90,301.79" fill="#8E8E00"/>
<polygon points="430.61,317.65 431.25,319.24 432.96,319.36 431.65,320.46 432.06,322.12 430.61,321.22 429.15,322.12 429.57,320.46 428.26,319.36 429.96,319.24" fill="#8E8E00"/>
<polygon points="440.67,287.49 441.31,289.08 443.02,289.20 441.71,290.30 442.12,291.96 440.67,291.05 439.22,291.96 439.63,290.30 438.32,289.20 440.03,289.08" fill="#8E8E00"/>
<polygon points="450.73,285.99 451.37,287.58 453.08,287.70 451.77,288.80 452.18,290.46 450.73,289.56 449.28,290.46 449.69,288.80 448.38,287.70 450.09,287.58" fill="#8E8E00"/>
<polygon points="460.80,308.43 461.44,310.02 463.14,310.14 461.83,311.24 462.25,312.90 460.80,311.99 459.34,312.90 459.76,311.24 458.45,310.14 460.15,310.02" fill="#8E8E00"/>
<polygon points="470.86,306.19 471.50,307.77 473.21,307.89 471.90,308.99 472.31,310.66 470.86,309.75 469.41,310.66 469.82,308.99 468.51,307.89 470.22,307.77" fill="#8E8E00"/>
<polygon points="480.92,300.20 481.56,301.79 483.27,301.91 481.96,303.01 482.37,304.67 480.92,303.77 479.47,304.67 479.88,303.01 478.57,301.91 480.28,301.79" fill="#8E8E00"/>
<polygon points="490.98,292.97 491.63,294.56 493.33,294.68 492.02,295.78 492.44,297.44 490.98,296.54 489.53,297.44 489.95,295.78 488.64,294.68 490.34,294.56" fill="#8E8E00"/>
<polygon points="501.05,286.74 501.69,288.33 503.40,288.45 502.09,289.55 502.50,291.21 501.05,290.30 499.60,291.21 500.01,289.55 498.70,288.45 500.41,288.33" fill="#8E8E00"/>
<polygon points="511.11,283.00 511.75,284.59 513.46,284.71 512.15,285.81 512.56,287.47 511.11,286.56 509.66,287.47 510.07,285.81 508.76,284.71 510.47,284.59" fill="#8E8E00"/>
<polygon points="521.17,277.27 521.82,278.85 523.52,278.97 522.21,280.08 522.63,281.74 521.17,280.83 519.72,281.74 520.14,280.08 518.82,278.97 520.53,278.85" fill="#8E8E00"/>
<polyline fill="none" stroke="#FB6501" stroke-width="0.45" stroke-opacity="0.58" points="329.98,376.97 340.04,361.01 350.10,334.33 360.17,335.83 370.23,326.61 380.29,319.38 390.35,335.08 400.42,349.54 410.48,337.33 420.54,314.14 430.61,355.28 440.67,349.29 450.73,314.89 460.80,344.31 470.86,309.16 480.92,338.57 490.98,296.94 501.05,333.84 511.11,324.61 521.17,333.84"/>
<polygon points="329.98,374.11 332.70,376.08 331.66,379.28 328.30,379.28 327.26,376.08" fill="#FB6501"/>
<polygon points="340.04,358.15 342.76,360.13 341.72,363.32 338.36,363.32 337.32,360.13" fill="#FB6501"/>
<polygon points="350.10,331.47 352.82,333.45 351.78,336.65 348.42,336.65 347.38,333.45" fill="#FB6501"/>
<polygon points="360.17,332.97 362.89,334.95 361.85,338.14 358.48,338.14 357.45,334.95" fill="#FB6501"/>
<polygon points="370.23,323.75 372.95,325.72 371.91,328.92 368.55,328.92 367.51,325.72" fill="#FB6501"/>
<polygon points="380.29,316.52 383.01,318.49 381.97,321.69 378.61,321.69 377.57,318.49" fill="#FB6501"/>
<polygon points="390.35,332.22 393.07,334.20 392.04,337.40 388.67,337.40 387.63,334.20" fill="#FB6501"/>
<polygon points="400.42,346.68 403.14,348.66 402.10,351.86 398.74,351.86 397.70,348.66" fill="#FB6501"/>
<polygon points="410.48,334.47 413.20,336.44 412.16,339.64 408.80,339.64 407.76,336.44" fill="#FB6501"/>
<polygon points="420.54,311.28 423.26,313.26 422.22,316.46 418.86,316.46 417.82,313.26" fill="#FB6501"/>
<polygon points="430.61,352.42 433.33,354.39 432.29,357.59 428.93,357.59 427.89,354.39" fill="#FB6501"/>
<polygon points="440.67,346.43 443.39,348.41 442.35,351.61 438.99,351.61 437.95,348.41" fill="#FB6501"/>
<polygon points="450.73,312.03 453.45,314.01 452.41,317.20 449.05,317.20 448.01,314.01" fill="#FB6501"/>
<polygon points="460.80,341.45 463.52,343.42 462.48,346.62 459.11,346.62 458.08,343.42" fill="#FB6501"/>
<polygon points="470.86,306.30 473.58,308.27 472.54,311.47 469.18,311.47 468.14,308.27" fill="#FB6501"/>
<polygon points="480.92,335.71 483.64,337.69 482.60,340.89 479.24,340.89 478.20,337.69" fill="#FB6501"/>
<polygon points="490.98,294.08 493.70,296.06 492.67,299.25 489.30,299.25 488.26,296.06" fill="#FB6501"/>
<polygon points="501.05,330.98 503.77,332.95 502.73,336.15 499.37,336.15 498.33,332.95" fill="#FB6501"/>
<polygon points="511.11,321.75 513.83,323.73 512.79,326.93 509.43,326.93 508.39,323.73" fill="#FB6501"/>
<polygon points="521.17,330.98 523.89,332.95 522.85,336.15 519.49,336.15 518.45,332.95" fill="#FB6501"/>
<rect x="309.85" y="249.00" width="231.45" height="186.80" fill="none" stroke="#484848" stroke-width="1.15"/>
<path d="M319.91 435.80V432.60M340.04 435.80V432.60M360.17 435.80V432.60M380.29 435.80V432.60M400.42 435.80V432.60M420.54 435.80V432.60M440.67 435.80V432.60M460.80 435.80V432.60M480.92 435.80V432.60M501.05 435.80V432.60M521.17 435.80V432.60M541.30 435.80V432.60M329.98 435.80V434.20M350.10 435.80V434.20M370.23 435.80V434.20M390.35 435.80V434.20M410.48 435.80V434.20M430.61 435.80V434.20M450.73 435.80V434.20M470.86 435.80V434.20M490.98 435.80V434.20M511.11 435.80V434.20M531.24 435.80V434.20M309.85 435.80H313.05M309.85 410.87H313.05M309.85 385.94H313.05M309.85 361.01H313.05M309.85 336.08H313.05M309.85 311.15H313.05M309.85 286.22H313.05M309.85 261.29H313.05M309.85 423.34H311.45M309.85 398.41H311.45M309.85 373.48H311.45M309.85 348.55H311.45M309.85 323.62H311.45M309.85 298.69H311.45M309.85 273.75H311.45" stroke="#484848" stroke-width="0.9" fill="none"/>
<text x="319.91" y="445.80" text-anchor="middle" font-size="7.2" stroke-width="0.05" fill="#1a1a1a">0</text>
<text x="340.04" y="445.80" text-anchor="middle" font-size="7.2" stroke-width="0.05" fill="#1a1a1a">2</text>
<text x="360.17" y="445.80" text-anchor="middle" font-size="7.2" stroke-width="0.05" fill="#1a1a1a">4</text>
<text x="380.29" y="445.80" text-anchor="middle" font-size="7.2" stroke-width="0.05" fill="#1a1a1a">6</text>
<text x="400.42" y="445.80" text-anchor="middle" font-size="7.2" stroke-width="0.05" fill="#1a1a1a">8</text>
<text x="420.54" y="445.80" text-anchor="middle" font-size="7.2" stroke-width="0.05" fill="#1a1a1a">10</text>
<text x="440.67" y="445.80" text-anchor="middle" font-size="7.2" stroke-width="0.05" fill="#1a1a1a">12</text>
<text x="460.80" y="445.80" text-anchor="middle" font-size="7.2" stroke-width="0.05" fill="#1a1a1a">14</text>
<text x="480.92" y="445.80" text-anchor="middle" font-size="7.2" stroke-width="0.05" fill="#1a1a1a">16</text>
<text x="501.05" y="445.80" text-anchor="middle" font-size="7.2" stroke-width="0.05" fill="#1a1a1a">18</text>
<text x="521.17" y="445.80" text-anchor="middle" font-size="7.2" stroke-width="0.05" fill="#1a1a1a">20</text>
<text x="541.30" y="445.80" text-anchor="middle" font-size="7.2" stroke-width="0.05" fill="#1a1a1a">22</text>
<text x="305.65" y="438.25" text-anchor="end" font-size="7.2" stroke-width="0.05" fill="#1a1a1a">9</text>
<text x="305.65" y="413.32" text-anchor="end" font-size="7.2" stroke-width="0.05" fill="#1a1a1a">10</text>
<text x="305.65" y="388.39" text-anchor="end" font-size="7.2" stroke-width="0.05" fill="#1a1a1a">11</text>
<text x="305.65" y="363.46" text-anchor="end" font-size="7.2" stroke-width="0.05" fill="#1a1a1a">12</text>
<text x="305.65" y="338.53" text-anchor="end" font-size="7.2" stroke-width="0.05" fill="#1a1a1a">13</text>
<text x="305.65" y="313.60" text-anchor="end" font-size="7.2" stroke-width="0.05" fill="#1a1a1a">14</text>
<text x="305.65" y="288.67" text-anchor="end" font-size="7.2" stroke-width="0.05" fill="#1a1a1a">15</text>
<text x="305.65" y="263.74" text-anchor="end" font-size="7.2" stroke-width="0.05" fill="#1a1a1a">16</text>
<text x="425.60" y="461.50" text-anchor="middle" font-size="9.8" fill="#1a1a1a">Image pairs</text>
<text transform="translate(293.90 342.40) rotate(-90)" text-anchor="middle" font-size="9.7" fill="#1a1a1a">Values of MI</text>
<rect x="318.50" y="251.00" width="217.35" height="16.05" fill="#fff" stroke="#484848" stroke-width="0.6"/>
<line x1="321.11" y1="255.11" x2="334.55" y2="255.11" stroke="#515151" stroke-width="0.45" stroke-opacity="0.58"/>
<rect x="325.82" y="253.11" width="4.01" height="4.01" fill="#515151"/>
<text x="336.65" y="257.17" font-size="6.12" fill="#1a1a1a">DWT</text>
<line x1="367.25" y1="255.11" x2="380.69" y2="255.11" stroke="#F14040" stroke-width="0.45" stroke-opacity="0.58"/>
<circle cx="373.97" cy="255.11" r="2.36" fill="#F14040"/>
<text x="382.79" y="257.17" font-size="6.12" fill="#1a1a1a">DenseFuse</text>
<line x1="411.28" y1="255.11" x2="424.72" y2="255.11" stroke="#1A6FDF" stroke-width="0.45" stroke-opacity="0.58"/>
<polygon points="418.00,252.64 420.47,257.00 415.52,257.00" fill="#1A6FDF"/>
<text x="426.82" y="257.17" font-size="6.12" fill="#1a1a1a">GTF</text>
<line x1="451.40" y1="255.11" x2="464.84" y2="255.11" stroke="#37AD6B" stroke-width="0.45" stroke-opacity="0.58"/>
<polygon points="458.12,257.59 460.59,253.23 455.64,253.23" fill="#37AD6B"/>
<text x="466.94" y="257.17" font-size="6.12" fill="#1a1a1a">CNN</text>
<line x1="497.03" y1="255.11" x2="510.47" y2="255.11" stroke="#B177DE" stroke-width="0.45" stroke-opacity="0.58"/>
<polygon points="503.75,252.52 506.35,255.11 503.75,257.71 501.16,255.11" fill="#B177DE"/>
<text x="512.58" y="257.17" font-size="6.12" fill="#1a1a1a">NestFuse</text>
<line x1="321.11" y1="262.84" x2="334.55" y2="262.84" stroke="#CC9900" stroke-width="0.45" stroke-opacity="0.58"/>
<polygon points="325.35,262.84 329.71,260.36 329.71,265.31" fill="#CC9900"/>
<text x="336.65" y="264.89" font-size="6.12" fill="#1a1a1a">FusionGAN</text>
<line x1="367.25" y1="262.84" x2="380.69" y2="262.84" stroke="#00CBCC" stroke-width="0.45" stroke-opacity="0.58"/>
<polygon points="376.44,262.84 372.08,260.36 372.08,265.31" fill="#00CBCC"/>
<text x="382.79" y="264.89" font-size="6.12" fill="#1a1a1a">DIDFuse</text>
<line x1="411.28" y1="262.84" x2="424.72" y2="262.84" stroke="#7D4E4E" stroke-width="0.45" stroke-opacity="0.58"/>
<polygon points="420.47,262.84 419.24,264.98 416.76,264.98 415.52,262.84 416.76,260.69 419.24,260.69" fill="#7D4E4E"/>
<text x="426.82" y="264.89" font-size="6.12" fill="#1a1a1a">SwinFuse</text>
<line x1="451.40" y1="262.84" x2="464.84" y2="262.84" stroke="#8E8E00" stroke-width="0.45" stroke-opacity="0.58"/>
<polygon points="458.12,260.60 458.70,262.03 460.25,262.14 459.06,263.14 459.43,264.65 458.12,263.83 456.80,264.65 457.18,263.14 455.99,262.14 457.54,262.03" fill="#8E8E00"/>
<text x="466.94" y="264.89" font-size="6.12" fill="#1a1a1a">MUFusion</text>
<line x1="497.03" y1="262.84" x2="510.47" y2="262.84" stroke="#FB6501" stroke-width="0.45" stroke-opacity="0.58"/>
<polygon points="503.75,260.24 506.22,262.03 505.28,264.93 502.23,264.93 501.29,262.03" fill="#FB6501"/>
<text x="512.58" y="264.89" font-size="6.12" fill="#1a1a1a">DCF</text>
<text x="396.75" y="482.00" font-size="14.3" fill="#111" stroke-width="0.1" textLength="37.9" lengthAdjust="spacingAndGlyphs">(<tspan font-weight="bold">d</tspan>) MI</text></g>
<g id="chart-e"><polyline fill="none" stroke="#515151" stroke-width="0.45" stroke-opacity="0.58" points="53.99,662.66 64.14,660.78 74.28,646.98 84.43,621.25 94.57,613.09 104.72,608.07 114.87,604.31 125.01,605.56 135.16,603.68 145.30,598.66 155.45,588.62 165.59,588.62 175.74,580.46 185.88,572.93 196.03,566.66 206.18,564.77 216.32,561.64 226.47,568.54 236.61,561.01 246.76,560.38"/>
<rect x="51.78" y="660.45" width="4.42" height="4.42" fill="#515151"/>
<rect x="61.93" y="658.57" width="4.42" height="4.42" fill="#515151"/>
<rect x="72.07" y="644.77" width="4.42" height="4.42" fill="#515151"/>
<rect x="82.22" y="619.04" width="4.42" height="4.42" fill="#515151"/>
<rect x="92.36" y="610.88" width="4.42" height="4.42" fill="#515151"/>
<rect x="102.51" y="605.86" width="4.42" height="4.42" fill="#515151"/>
<rect x="112.66" y="602.10" width="4.42" height="4.42" fill="#515151"/>
<rect x="122.80" y="603.35" width="4.42" height="4.42" fill="#515151"/>
<rect x="132.95" y="601.47" width="4.42" height="4.42" fill="#515151"/>
<rect x="143.09" y="596.45" width="4.42" height="4.42" fill="#515151"/>
<rect x="153.24" y="586.41" width="4.42" height="4.42" fill="#515151"/>
<rect x="163.38" y="586.41" width="4.42" height="4.42" fill="#515151"/>
<rect x="173.53" y="578.25" width="4.42" height="4.42" fill="#515151"/>
<rect x="183.67" y="570.72" width="4.42" height="4.42" fill="#515151"/>
<rect x="193.82" y="564.45" width="4.42" height="4.42" fill="#515151"/>
<rect x="203.97" y="562.56" width="4.42" height="4.42" fill="#515151"/>
<rect x="214.11" y="559.43" width="4.42" height="4.42" fill="#515151"/>
<rect x="224.26" y="566.33" width="4.42" height="4.42" fill="#515151"/>
<rect x="234.40" y="558.80" width="4.42" height="4.42" fill="#515151"/>
<rect x="244.55" y="558.17" width="4.42" height="4.42" fill="#515151"/>
<polyline fill="none" stroke="#F14040" stroke-width="0.45" stroke-opacity="0.58" points="53.99,610.58 64.14,608.07 74.28,594.89 84.43,591.76 94.57,588.62 104.72,584.23 114.87,577.95 125.01,574.81 135.16,575.44 145.30,573.56 155.45,566.66 165.59,563.52 175.74,558.50 185.88,558.50 196.03,556.62 206.18,556.62 216.32,552.23 226.47,549.09 236.61,547.21 246.76,545.32"/>
<circle cx="53.99" cy="610.58" r="2.60" fill="#F14040"/>
<circle cx="64.14" cy="608.07" r="2.60" fill="#F14040"/>
<circle cx="74.28" cy="594.89" r="2.60" fill="#F14040"/>
<circle cx="84.43" cy="591.76" r="2.60" fill="#F14040"/>
<circle cx="94.57" cy="588.62" r="2.60" fill="#F14040"/>
<circle cx="104.72" cy="584.23" r="2.60" fill="#F14040"/>
<circle cx="114.87" cy="577.95" r="2.60" fill="#F14040"/>
<circle cx="125.01" cy="574.81" r="2.60" fill="#F14040"/>
<circle cx="135.16" cy="575.44" r="2.60" fill="#F14040"/>
<circle cx="145.30" cy="573.56" r="2.60" fill="#F14040"/>
<circle cx="155.45" cy="566.66" r="2.60" fill="#F14040"/>
<circle cx="165.59" cy="563.52" r="2.60" fill="#F14040"/>
<circle cx="175.74" cy="558.50" r="2.60" fill="#F14040"/>
<circle cx="185.88" cy="558.50" r="2.60" fill="#F14040"/>
<circle cx="196.03" cy="556.62" r="2.60" fill="#F14040"/>
<circle cx="206.18" cy="556.62" r="2.60" fill="#F14040"/>
<circle cx="216.32" cy="552.23" r="2.60" fill="#F14040"/>
<circle cx="226.47" cy="549.09" r="2.60" fill="#F14040"/>
<circle cx="236.61" cy="547.21" r="2.60" fill="#F14040"/>
<circle cx="246.76" cy="545.32" r="2.60" fill="#F14040"/>
<polyline fill="none" stroke="#1A6FDF" stroke-width="0.45" stroke-opacity="0.58" points="53.99,632.54 64.14,621.88 74.28,618.11 84.43,610.58 94.57,608.07 104.72,596.78 114.87,594.27 125.01,590.50 135.16,581.09 145.30,577.95 155.45,570.42 165.59,569.17 175.74,568.54 185.88,565.40 196.03,563.52 206.18,559.75 216.32,555.36 226.47,550.97 236.61,545.95 246.76,542.81"/>
<polygon points="53.99,629.81 56.72,634.62 51.26,634.62" fill="#1A6FDF"/>
<polygon points="64.14,619.15 66.87,623.96 61.41,623.96" fill="#1A6FDF"/>
<polygon points="74.28,615.38 77.01,620.19 71.55,620.19" fill="#1A6FDF"/>
<polygon points="84.43,607.85 87.16,612.66 81.70,612.66" fill="#1A6FDF"/>
<polygon points="94.57,605.34 97.30,610.15 91.84,610.15" fill="#1A6FDF"/>
<polygon points="104.72,594.05 107.45,598.86 101.99,598.86" fill="#1A6FDF"/>
<polygon points="114.87,591.54 117.60,596.35 112.14,596.35" fill="#1A6FDF"/>
<polygon points="125.01,587.77 127.74,592.58 122.28,592.58" fill="#1A6FDF"/>
<polygon points="135.16,578.36 137.89,583.17 132.43,583.17" fill="#1A6FDF"/>
<polygon points="145.30,575.22 148.03,580.03 142.57,580.03" fill="#1A6FDF"/>
<polygon points="155.45,567.69 158.18,572.50 152.72,572.50" fill="#1A6FDF"/>
<polygon points="165.59,566.44 168.32,571.25 162.86,571.25" fill="#1A6FDF"/>
<polygon points="175.74,565.81 178.47,570.62 173.01,570.62" fill="#1A6FDF"/>
<polygon points="185.88,562.67 188.61,567.48 183.15,567.48" fill="#1A6FDF"/>
<polygon points="196.03,560.79 198.76,565.60 193.30,565.60" fill="#1A6FDF"/>
<polygon points="206.18,557.02 208.91,561.84 203.45,561.84" fill="#1A6FDF"/>
<polygon points="216.32,552.63 219.05,557.44 213.59,557.44" fill="#1A6FDF"/>
<polygon points="226.47,548.24 229.20,553.05 223.74,553.05" fill="#1A6FDF"/>
<polygon points="236.61,543.22 239.34,548.03 233.88,548.03" fill="#1A6FDF"/>
<polygon points="246.76,540.08 249.49,544.89 244.03,544.89" fill="#1A6FDF"/>
<polyline fill="none" stroke="#37AD6B" stroke-width="0.45" stroke-opacity="0.58" points="53.99,635.05 64.14,622.50 74.28,613.72 84.43,598.66 94.57,594.89 104.72,586.74 114.87,582.35 125.01,577.95 135.16,574.81 145.30,571.68 155.45,569.17 165.59,569.79 175.74,561.01 185.88,559.75 196.03,558.50 206.18,558.50 216.32,557.87 226.47,556.62 236.61,555.99 246.76,550.97"/>
<polygon points="53.99,637.78 56.72,632.97 51.26,632.97" fill="#37AD6B"/>
<polygon points="64.14,625.24 66.87,620.42 61.41,620.42" fill="#37AD6B"/>
<polygon points="74.28,616.45 77.01,611.64 71.55,611.64" fill="#37AD6B"/>
<polygon points="84.43,601.39 87.16,596.58 81.70,596.58" fill="#37AD6B"/>
<polygon points="94.57,597.62 97.30,592.81 91.84,592.81" fill="#37AD6B"/>
<polygon points="104.72,589.47 107.45,584.66 101.99,584.66" fill="#37AD6B"/>
<polygon points="114.87,585.08 117.60,580.26 112.14,580.26" fill="#37AD6B"/>
<polygon points="125.01,580.68 127.74,575.87 122.28,575.87" fill="#37AD6B"/>
<polygon points="135.16,577.54 137.89,572.73 132.43,572.73" fill="#37AD6B"/>
<polygon points="145.30,574.41 148.03,569.60 142.57,569.60" fill="#37AD6B"/>
<polygon points="155.45,571.90 158.18,567.09 152.72,567.09" fill="#37AD6B"/>
<polygon points="165.59,572.52 168.32,567.71 162.86,567.71" fill="#37AD6B"/>
<polygon points="175.74,563.74 178.47,558.93 173.01,558.93" fill="#37AD6B"/>
<polygon points="185.88,562.49 188.61,557.67 183.15,557.67" fill="#37AD6B"/>
<polygon points="196.03,561.23 198.76,556.42 193.30,556.42" fill="#37AD6B"/>
<polygon points="206.18,561.23 208.91,556.42 203.45,556.42" fill="#37AD6B"/>
<polygon points="216.32,560.60 219.05,555.79 213.59,555.79" fill="#37AD6B"/>
<polygon points="226.47,559.35 229.20,554.54 223.74,554.54" fill="#37AD6B"/>
<polygon points="236.61,558.72 239.34,553.91 233.88,553.91" fill="#37AD6B"/>
<polygon points="246.76,553.70 249.49,548.89 244.03,548.89" fill="#37AD6B"/>
<polyline fill="none" stroke="#B177DE" stroke-width="0.45" stroke-opacity="0.58" points="53.99,616.86 64.14,594.89 74.28,593.01 84.43,571.05 94.57,571.68 104.72,571.05 114.87,571.05 125.01,568.54 135.16,566.66 145.30,564.77 155.45,561.01 165.59,559.75 175.74,558.50 185.88,549.09 196.03,545.32 206.18,540.30 216.32,539.05 226.47,537.79 236.61,535.91 246.76,530.89"/>
<polygon points="53.99,614.00 56.85,616.86 53.99,619.72 51.13,616.86" fill="#B177DE"/>
<polygon points="64.14,592.03 67.00,594.89 64.14,597.75 61.28,594.89" fill="#B177DE"/>
<polygon points="74.28,590.15 77.14,593.01 74.28,595.87 71.42,593.01" fill="#B177DE"/>
<polygon points="84.43,568.19 87.29,571.05 84.43,573.91 81.57,571.05" fill="#B177DE"/>
<polygon points="94.57,568.82 97.43,571.68 94.57,574.54 91.71,571.68" fill="#B177DE"/>
<polygon points="104.72,568.19 107.58,571.05 104.72,573.91 101.86,571.05" fill="#B177DE"/>
<polygon points="114.87,568.19 117.73,571.05 114.87,573.91 112.01,571.05" fill="#B177DE"/>
<polygon points="125.01,565.68 127.87,568.54 125.01,571.40 122.15,568.54" fill="#B177DE"/>
<polygon points="135.16,563.80 138.02,566.66 135.16,569.52 132.30,566.66" fill="#B177DE"/>
<polygon points="145.30,561.91 148.16,564.77 145.30,567.63 142.44,564.77" fill="#B177DE"/>
<polygon points="155.45,558.15 158.31,561.01 155.45,563.87 152.59,561.01" fill="#B177DE"/>
<polygon points="165.59,556.89 168.45,559.75 165.59,562.62 162.73,559.75" fill="#B177DE"/>
<polygon points="175.74,555.64 178.60,558.50 175.74,561.36 172.88,558.50" fill="#B177DE"/>
<polygon points="185.88,546.23 188.74,549.09 185.88,551.95 183.02,549.09" fill="#B177DE"/>
<polygon points="196.03,542.46 198.89,545.32 196.03,548.18 193.17,545.32" fill="#B177DE"/>
<polygon points="206.18,537.44 209.04,540.30 206.18,543.16 203.32,540.30" fill="#B177DE"/>
<polygon points="216.32,536.19 219.18,539.05 216.32,541.91 213.46,539.05" fill="#B177DE"/>
<polygon points="226.47,534.93 229.33,537.79 226.47,540.65 223.61,537.79" fill="#B177DE"/>
<polygon points="236.61,533.05 239.47,535.91 236.61,538.77 233.75,535.91" fill="#B177DE"/>
<polygon points="246.76,528.03 249.62,530.89 246.76,533.75 243.90,530.89" fill="#B177DE"/>
<polyline fill="none" stroke="#CC9900" stroke-width="0.45" stroke-opacity="0.58" points="53.99,655.76 64.14,633.17 74.28,630.66 84.43,630.03 94.57,620.62 104.72,614.98 114.87,608.70 125.01,603.68 135.16,601.17 145.30,594.27 155.45,593.01 165.59,587.37 175.74,578.58 185.88,571.05 196.03,569.79 206.18,569.17 216.32,566.03 226.47,564.15 236.61,549.72 246.76,540.30"/>
<polygon points="51.26,655.76 56.07,653.03 56.07,658.49" fill="#CC9900"/>
<polygon points="61.41,633.17 66.22,630.44 66.22,635.90" fill="#CC9900"/>
<polygon points="71.55,630.66 76.36,627.93 76.36,633.39" fill="#CC9900"/>
<polygon points="81.70,630.03 86.51,627.30 86.51,632.76" fill="#CC9900"/>
<polygon points="91.84,620.62 96.65,617.89 96.65,623.35" fill="#CC9900"/>
<polygon points="101.99,614.98 106.80,612.25 106.80,617.71" fill="#CC9900"/>
<polygon points="112.14,608.70 116.95,605.97 116.95,611.43" fill="#CC9900"/>
<polygon points="122.28,603.68 127.09,600.95 127.09,606.41" fill="#CC9900"/>
<polygon points="132.43,601.17 137.24,598.44 137.24,603.90" fill="#CC9900"/>
<polygon points="142.57,594.27 147.38,591.54 147.38,597.00" fill="#CC9900"/>
<polygon points="152.72,593.01 157.53,590.28 157.53,595.74" fill="#CC9900"/>
<polygon points="162.86,587.37 167.67,584.63 167.67,590.10" fill="#CC9900"/>
<polygon points="173.01,578.58 177.82,575.85 177.82,581.31" fill="#CC9900"/>
<polygon points="183.15,571.05 187.96,568.32 187.96,573.78" fill="#CC9900"/>
<polygon points="193.30,569.79 198.11,567.06 198.11,572.52" fill="#CC9900"/>
<polygon points="203.45,569.17 208.26,566.44 208.26,571.90" fill="#CC9900"/>
<polygon points="213.59,566.03 218.40,563.30 218.40,568.76" fill="#CC9900"/>
<polygon points="223.74,564.15 228.55,561.42 228.55,566.88" fill="#CC9900"/>
<polygon points="233.88,549.72 238.69,546.99 238.69,552.45" fill="#CC9900"/>
<polygon points="244.03,540.30 248.84,537.57 248.84,543.03" fill="#CC9900"/>
<polyline fill="none" stroke="#00CBCC" stroke-width="0.45" stroke-opacity="0.58" points="53.99,602.42 64.14,592.38 74.28,591.13 84.43,584.23 94.57,583.60 104.72,583.60 114.87,579.84 125.01,576.07 135.16,573.56 145.30,570.42 155.45,569.17 165.59,569.17 175.74,561.64 185.88,559.75 196.03,555.36 206.18,548.46 216.32,545.95 226.47,544.07 236.61,542.81 246.76,535.91"/>
<polygon points="56.72,602.42 51.91,599.69 51.91,605.15" fill="#00CBCC"/>
<polygon points="66.87,592.38 62.06,589.65 62.06,595.12" fill="#00CBCC"/>
<polygon points="77.01,591.13 72.20,588.40 72.20,593.86" fill="#00CBCC"/>
<polygon points="87.16,584.23 82.35,581.50 82.35,586.96" fill="#00CBCC"/>
<polygon points="97.30,583.60 92.49,580.87 92.49,586.33" fill="#00CBCC"/>
<polygon points="107.45,583.60 102.64,580.87 102.64,586.33" fill="#00CBCC"/>
<polygon points="117.60,579.84 112.79,577.11 112.79,582.57" fill="#00CBCC"/>
<polygon points="127.74,576.07 122.93,573.34 122.93,578.80" fill="#00CBCC"/>
<polygon points="137.89,573.56 133.08,570.83 133.08,576.29" fill="#00CBCC"/>
<polygon points="148.03,570.42 143.22,567.69 143.22,573.15" fill="#00CBCC"/>
<polygon points="158.18,569.17 153.37,566.44 153.37,571.90" fill="#00CBCC"/>
<polygon points="168.32,569.17 163.51,566.44 163.51,571.90" fill="#00CBCC"/>
<polygon points="178.47,561.64 173.66,558.91 173.66,564.37" fill="#00CBCC"/>
<polygon points="188.61,559.75 183.80,557.02 183.80,562.49" fill="#00CBCC"/>
<polygon points="198.76,555.36 193.95,552.63 193.95,558.09" fill="#00CBCC"/>
<polygon points="208.91,548.46 204.10,545.73 204.10,551.19" fill="#00CBCC"/>
<polygon points="219.05,545.95 214.24,543.22 214.24,548.68" fill="#00CBCC"/>
<polygon points="229.20,544.07 224.39,541.34 224.39,546.80" fill="#00CBCC"/>
<polygon points="239.34,542.81 234.53,540.08 234.53,545.54" fill="#00CBCC"/>
<polygon points="249.49,535.91 244.68,533.18 244.68,538.64" fill="#00CBCC"/>
<polyline fill="none" stroke="#7D4E4E" stroke-width="0.45" stroke-opacity="0.58" points="53.99,601.17 64.14,584.86 74.28,589.88 84.43,582.35 94.57,582.35 104.72,582.35 114.87,581.72 125.01,574.19 135.16,572.93 145.30,569.17 155.45,564.77 165.59,569.79 175.74,557.87 185.88,557.87 196.03,550.97 206.18,549.72 216.32,545.32 226.47,542.81 236.61,541.56 246.76,516.46"/>
<polygon points="56.72,601.17 55.36,603.53 52.63,603.53 51.26,601.17 52.63,598.81 55.36,598.81" fill="#7D4E4E"/>
<polygon points="66.87,584.86 65.50,587.22 62.77,587.22 61.41,584.86 62.77,582.49 65.50,582.49" fill="#7D4E4E"/>
<polygon points="77.01,589.88 75.65,592.24 72.92,592.24 71.55,589.88 72.92,587.51 75.65,587.51" fill="#7D4E4E"/>
<polygon points="87.16,582.35 85.79,584.71 83.06,584.71 81.70,582.35 83.06,579.98 85.79,579.98" fill="#7D4E4E"/>
<polygon points="97.30,582.35 95.94,584.71 93.21,584.71 91.84,582.35 93.21,579.98 95.94,579.98" fill="#7D4E4E"/>
<polygon points="107.45,582.35 106.08,584.71 103.35,584.71 101.99,582.35 103.35,579.98 106.08,579.98" fill="#7D4E4E"/>
<polygon points="117.60,581.72 116.23,584.08 113.50,584.08 112.14,581.72 113.50,579.35 116.23,579.35" fill="#7D4E4E"/>
<polygon points="127.74,574.19 126.38,576.55 123.65,576.55 122.28,574.19 123.65,571.82 126.38,571.82" fill="#7D4E4E"/>
<polygon points="137.89,572.93 136.52,575.30 133.79,575.30 132.43,572.93 133.79,570.57 136.52,570.57" fill="#7D4E4E"/>
<polygon points="148.03,569.17 146.67,571.53 143.94,571.53 142.57,569.17 143.94,566.80 146.67,566.80" fill="#7D4E4E"/>
<polygon points="158.18,564.77 156.81,567.14 154.08,567.14 152.72,564.77 154.08,562.41 156.81,562.41" fill="#7D4E4E"/>
<polygon points="168.32,569.79 166.96,572.16 164.23,572.16 162.86,569.79 164.23,567.43 166.96,567.43" fill="#7D4E4E"/>
<polygon points="178.47,557.87 177.10,560.24 174.37,560.24 173.01,557.87 174.37,555.51 177.10,555.51" fill="#7D4E4E"/>
<polygon points="188.61,557.87 187.25,560.24 184.52,560.24 183.15,557.87 184.52,555.51 187.25,555.51" fill="#7D4E4E"/>
<polygon points="198.76,550.97 197.40,553.33 194.67,553.33 193.30,550.97 194.67,548.61 197.40,548.61" fill="#7D4E4E"/>
<polygon points="208.91,549.72 207.54,552.08 204.81,552.08 203.45,549.72 204.81,547.35 207.54,547.35" fill="#7D4E4E"/>
<polygon points="219.05,545.32 217.69,547.69 214.96,547.69 213.59,545.32 214.96,542.96 217.69,542.96" fill="#7D4E4E"/>
<polygon points="229.20,542.81 227.83,545.18 225.10,545.18 223.74,542.81 225.10,540.45 227.83,540.45" fill="#7D4E4E"/>
<polygon points="239.34,541.56 237.98,543.92 235.25,543.92 233.88,541.56 235.25,539.19 237.98,539.19" fill="#7D4E4E"/>
<polygon points="249.49,516.46 248.12,518.82 245.39,518.82 244.03,516.46 245.39,514.09 248.12,514.09" fill="#7D4E4E"/>
<polyline fill="none" stroke="#8E8E00" stroke-width="0.45" stroke-opacity="0.58" points="53.99,619.37 64.14,593.64 74.28,591.13 84.43,588.62 94.57,585.48 104.72,584.23 114.87,573.56 125.01,570.42 135.16,564.15 145.30,561.01 155.45,549.72 165.59,549.72 175.74,547.21 185.88,544.70 196.03,540.93 206.18,539.67 216.32,539.05 226.47,536.54 236.61,534.03 246.76,529.01"/>
<polygon points="53.99,616.90 54.63,618.48 56.34,618.60 55.03,619.70 55.44,621.37 53.99,620.46 52.54,621.37 52.95,619.70 51.64,618.60 53.35,618.48" fill="#8E8E00"/>
<polygon points="64.14,591.17 64.78,592.76 66.49,592.88 65.18,593.98 65.59,595.64 64.14,594.73 62.69,595.64 63.10,593.98 61.79,592.88 63.50,592.76" fill="#8E8E00"/>
<polygon points="74.28,588.66 74.92,590.25 76.63,590.37 75.32,591.47 75.73,593.13 74.28,592.22 72.83,593.13 73.24,591.47 71.93,590.37 73.64,590.25" fill="#8E8E00"/>
<polygon points="84.43,586.15 85.07,587.74 86.78,587.86 85.47,588.96 85.88,590.62 84.43,589.71 82.98,590.62 83.39,588.96 82.08,587.86 83.79,587.74" fill="#8E8E00"/>
<polygon points="94.57,583.01 95.22,584.60 96.92,584.72 95.61,585.82 96.03,587.48 94.57,586.57 93.12,587.48 93.54,585.82 92.22,584.72 93.93,584.60" fill="#8E8E00"/>
<polygon points="104.72,581.76 105.36,583.34 107.07,583.46 105.76,584.56 106.17,586.23 104.72,585.32 103.27,586.23 103.68,584.56 102.37,583.46 104.08,583.34" fill="#8E8E00"/>
<polygon points="114.87,571.09 115.51,572.68 117.21,572.80 115.90,573.90 116.32,575.56 114.87,574.65 113.41,575.56 113.83,573.90 112.52,572.80 114.22,572.68" fill="#8E8E00"/>
<polygon points="125.01,567.95 125.65,569.54 127.36,569.66 126.05,570.76 126.46,572.42 125.01,571.51 123.56,572.42 123.97,570.76 122.66,569.66 124.37,569.54" fill="#8E8E00"/>
<polygon points="135.16,561.68 135.80,563.26 137.51,563.38 136.20,564.48 136.61,566.15 135.16,565.24 133.70,566.15 134.12,564.48 132.81,563.38 134.51,563.26" fill="#8E8E00"/>
<polygon points="145.30,558.54 145.94,560.13 147.65,560.25 146.34,561.35 146.75,563.01 145.30,562.10 143.85,563.01 144.26,561.35 142.95,560.25 144.66,560.13" fill="#8E8E00"/>
<polygon points="155.45,547.25 156.09,548.83 157.80,548.95 156.49,550.05 156.90,551.71 155.45,550.81 154.00,551.71 154.41,550.05 153.10,548.95 154.81,548.83" fill="#8E8E00"/>
<polygon points="165.59,547.25 166.24,548.83 167.94,548.95 166.63,550.05 167.05,551.71 165.59,550.81 164.14,551.71 164.55,550.05 163.24,548.95 164.95,548.83" fill="#8E8E00"/>
<polygon points="175.74,544.74 176.38,546.32 178.09,546.44 176.78,547.54 177.19,549.20 175.74,548.30 174.29,549.20 174.70,547.54 173.39,546.44 175.10,546.32" fill="#8E8E00"/>
<polygon points="185.88,542.23 186.53,543.81 188.23,543.93 186.92,545.03 187.34,546.69 185.88,545.79 184.43,546.69 184.85,545.03 183.54,543.93 185.24,543.81" fill="#8E8E00"/>
<polygon points="196.03,538.46 196.67,540.05 198.38,540.17 197.07,541.27 197.48,542.93 196.03,542.02 194.58,542.93 194.99,541.27 193.68,540.17 195.39,540.05" fill="#8E8E00"/>
<polygon points="206.18,537.20 206.82,538.79 208.53,538.91 207.21,540.01 207.63,541.67 206.18,540.77 204.72,541.67 205.14,540.01 203.83,538.91 205.53,538.79" fill="#8E8E00"/>
<polygon points="216.32,536.58 216.96,538.16 218.67,538.28 217.36,539.38 217.77,541.05 216.32,540.14 214.87,541.05 215.28,539.38 213.97,538.28 215.68,538.16" fill="#8E8E00"/>
<polygon points="226.47,534.07 227.11,535.65 228.82,535.77 227.51,536.87 227.92,538.54 226.47,537.63 225.02,538.54 225.43,536.87 224.12,535.77 225.83,535.65" fill="#8E8E00"/>
<polygon points="236.61,531.56 237.25,533.14 238.96,533.26 237.65,534.36 238.06,536.03 236.61,535.12 235.16,536.03 235.57,534.36 234.26,533.26 235.97,533.14" fill="#8E8E00"/>
<polygon points="246.76,526.54 247.40,528.12 249.11,528.24 247.80,529.34 248.21,531.01 246.76,530.10 245.31,531.01 245.72,529.34 244.41,528.24 246.12,528.12" fill="#8E8E00"/>
<polyline fill="none" stroke="#FB6501" stroke-width="0.45" stroke-opacity="0.58" points="53.99,631.92 64.14,591.13 74.28,588.62 84.43,587.37 94.57,584.86 104.72,583.60 114.87,572.93 125.01,569.17 135.16,562.89 145.30,560.38 155.45,549.09 165.59,547.21 175.74,546.58 185.88,544.07 196.03,540.30 206.18,539.05 216.32,538.42 226.47,535.91 236.61,533.40 246.76,527.12"/>
<polygon points="53.99,629.06 56.71,631.03 55.67,634.23 52.31,634.23 51.27,631.03" fill="#FB6501"/>
<polygon points="64.14,588.27 66.86,590.25 65.82,593.44 62.46,593.44 61.42,590.25" fill="#FB6501"/>
<polygon points="74.28,585.76 77.00,587.74 75.96,590.93 72.60,590.93 71.56,587.74" fill="#FB6501"/>
<polygon points="84.43,584.50 87.15,586.48 86.11,589.68 82.75,589.68 81.71,586.48" fill="#FB6501"/>
<polygon points="94.57,582.00 97.29,583.97 96.25,587.17 92.89,587.17 91.85,583.97" fill="#FB6501"/>
<polygon points="104.72,580.74 107.44,582.72 106.40,585.91 103.04,585.91 102.00,582.72" fill="#FB6501"/>
<polygon points="114.87,570.07 117.59,572.05 116.55,575.25 113.18,575.25 112.15,572.05" fill="#FB6501"/>
<polygon points="125.01,566.31 127.73,568.28 126.69,571.48 123.33,571.48 122.29,568.28" fill="#FB6501"/>
<polygon points="135.16,560.03 137.88,562.01 136.84,565.21 133.48,565.21 132.44,562.01" fill="#FB6501"/>
<polygon points="145.30,557.52 148.02,559.50 146.98,562.70 143.62,562.70 142.58,559.50" fill="#FB6501"/>
<polygon points="155.45,546.23 158.17,548.20 157.13,551.40 153.77,551.40 152.73,548.20" fill="#FB6501"/>
<polygon points="165.59,544.35 168.31,546.32 167.27,549.52 163.91,549.52 162.87,546.32" fill="#FB6501"/>
<polygon points="175.74,543.72 178.46,545.69 177.42,548.89 174.06,548.89 173.02,545.69" fill="#FB6501"/>
<polygon points="185.88,541.21 188.60,543.18 187.57,546.38 184.20,546.38 183.16,543.18" fill="#FB6501"/>
<polygon points="196.03,537.44 198.75,539.42 197.71,542.62 194.35,542.62 193.31,539.42" fill="#FB6501"/>
<polygon points="206.18,536.19 208.90,538.16 207.86,541.36 204.50,541.36 203.46,538.16" fill="#FB6501"/>
<polygon points="216.32,535.56 219.04,537.54 218.00,540.73 214.64,540.73 213.60,537.54" fill="#FB6501"/>
<polygon points="226.47,533.05 229.19,535.03 228.15,538.22 224.79,538.22 223.75,535.03" fill="#FB6501"/>
<polygon points="236.61,530.54 239.33,532.52 238.29,535.71 234.93,535.71 233.89,532.52" fill="#FB6501"/>
<polygon points="246.76,524.26 249.48,526.24 248.44,529.44 245.08,529.44 244.04,526.24" fill="#FB6501"/>
<rect x="33.70" y="495.80" width="233.35" height="188.20" fill="none" stroke="#484848" stroke-width="1.15"/>
<path d="M43.85 684.00V680.80M64.14 684.00V680.80M84.43 684.00V680.80M104.72 684.00V680.80M125.01 684.00V680.80M145.30 684.00V680.80M165.59 684.00V680.80M185.88 684.00V680.80M206.18 684.00V680.80M226.47 684.00V680.80M246.76 684.00V680.80M267.05 684.00V680.80M53.99 684.00V682.40M74.28 684.00V682.40M94.57 684.00V682.40M114.87 684.00V682.40M135.16 684.00V682.40M155.45 684.00V682.40M175.74 684.00V682.40M196.03 684.00V682.40M216.32 684.00V682.40M236.61 684.00V682.40M256.90 684.00V682.40M33.70 684.00H36.90M33.70 652.62H36.90M33.70 621.25H36.90M33.70 589.88H36.90M33.70 558.50H36.90M33.70 527.12H36.90M33.70 495.75H36.90M33.70 668.31H35.30M33.70 636.94H35.30M33.70 605.56H35.30M33.70 574.19H35.30M33.70 542.81H35.30M33.70 511.44H35.30" stroke="#484848" stroke-width="0.9" fill="none"/>
<text x="43.85" y="694.00" text-anchor="middle" font-size="7.2" stroke-width="0.05" fill="#1a1a1a">0</text>
<text x="64.14" y="694.00" text-anchor="middle" font-size="7.2" stroke-width="0.05" fill="#1a1a1a">2</text>
<text x="84.43" y="694.00" text-anchor="middle" font-size="7.2" stroke-width="0.05" fill="#1a1a1a">4</text>
<text x="104.72" y="694.00" text-anchor="middle" font-size="7.2" stroke-width="0.05" fill="#1a1a1a">6</text>
<text x="125.01" y="694.00" text-anchor="middle" font-size="7.2" stroke-width="0.05" fill="#1a1a1a">8</text>
<text x="145.30" y="694.00" text-anchor="middle" font-size="7.2" stroke-width="0.05" fill="#1a1a1a">10</text>
<text x="165.59" y="694.00" text-anchor="middle" font-size="7.2" stroke-width="0.05" fill="#1a1a1a">12</text>
<text x="185.88" y="694.00" text-anchor="middle" font-size="7.2" stroke-width="0.05" fill="#1a1a1a">14</text>
<text x="206.18" y="694.00" text-anchor="middle" font-size="7.2" stroke-width="0.05" fill="#1a1a1a">16</text>
<text x="226.47" y="694.00" text-anchor="middle" font-size="7.2" stroke-width="0.05" fill="#1a1a1a">18</text>
<text x="246.76" y="694.00" text-anchor="middle" font-size="7.2" stroke-width="0.05" fill="#1a1a1a">20</text>
<text x="267.05" y="694.00" text-anchor="middle" font-size="7.2" stroke-width="0.05" fill="#1a1a1a">22</text>
<text x="29.50" y="686.45" text-anchor="end" font-size="7.2" stroke-width="0.05" fill="#1a1a1a">5.0</text>
<text x="29.50" y="655.08" text-anchor="end" font-size="7.2" stroke-width="0.05" fill="#1a1a1a">5.5</text>
<text x="29.50" y="623.70" text-anchor="end" font-size="7.2" stroke-width="0.05" fill="#1a1a1a">6.0</text>
<text x="29.50" y="592.33" text-anchor="end" font-size="7.2" stroke-width="0.05" fill="#1a1a1a">6.5</text>
<text x="29.50" y="560.95" text-anchor="end" font-size="7.2" stroke-width="0.05" fill="#1a1a1a">7.0</text>
<text x="29.50" y="529.58" text-anchor="end" font-size="7.2" stroke-width="0.05" fill="#1a1a1a">7.5</text>
<text x="29.50" y="498.20" text-anchor="end" font-size="7.2" stroke-width="0.05" fill="#1a1a1a">8.0</text>
<text x="152.30" y="708.90" text-anchor="middle" font-size="9.8" fill="#1a1a1a">Image pairs</text>
<text transform="translate(15.20 589.90) rotate(-90)" text-anchor="middle" font-size="9.7" fill="#1a1a1a">Values of EN</text>
<rect x="40.10" y="497.50" width="221.79" height="16.38" fill="#fff" stroke="#484848" stroke-width="0.6"/>
<line x1="42.76" y1="501.70" x2="56.48" y2="501.70" stroke="#515151" stroke-width="0.45" stroke-opacity="0.58"/>
<rect x="47.57" y="499.65" width="4.09" height="4.09" fill="#515151"/>
<text x="58.63" y="503.79" font-size="6.24" fill="#1a1a1a">DWT</text>
<line x1="89.84" y1="501.70" x2="103.56" y2="501.70" stroke="#F14040" stroke-width="0.45" stroke-opacity="0.58"/>
<circle cx="96.70" cy="501.70" r="2.41" fill="#F14040"/>
<text x="105.71" y="503.79" font-size="6.24" fill="#1a1a1a">DenseFuse</text>
<line x1="134.77" y1="501.70" x2="148.49" y2="501.70" stroke="#1A6FDF" stroke-width="0.45" stroke-opacity="0.58"/>
<polygon points="141.63,499.17 144.16,503.62 139.11,503.62" fill="#1A6FDF"/>
<text x="150.64" y="503.79" font-size="6.24" fill="#1a1a1a">GTF</text>
<line x1="175.71" y1="501.70" x2="189.43" y2="501.70" stroke="#37AD6B" stroke-width="0.45" stroke-opacity="0.58"/>
<polygon points="182.57,504.22 185.10,499.77 180.05,499.77" fill="#37AD6B"/>
<text x="191.58" y="503.79" font-size="6.24" fill="#1a1a1a">CNN</text>
<line x1="222.28" y1="501.70" x2="236.00" y2="501.70" stroke="#B177DE" stroke-width="0.45" stroke-opacity="0.58"/>
<polygon points="229.14,499.05 231.79,501.70 229.14,504.34 226.49,501.70" fill="#B177DE"/>
<text x="238.15" y="503.79" font-size="6.24" fill="#1a1a1a">NestFuse</text>
<line x1="42.76" y1="509.58" x2="56.48" y2="509.58" stroke="#CC9900" stroke-width="0.45" stroke-opacity="0.58"/>
<polygon points="47.09,509.58 51.54,507.05 51.54,512.10" fill="#CC9900"/>
<text x="58.63" y="511.68" font-size="6.24" fill="#1a1a1a">FusionGAN</text>
<line x1="89.84" y1="509.58" x2="103.56" y2="509.58" stroke="#00CBCC" stroke-width="0.45" stroke-opacity="0.58"/>
<polygon points="99.23,509.58 94.78,507.05 94.78,512.10" fill="#00CBCC"/>
<text x="105.71" y="511.68" font-size="6.24" fill="#1a1a1a">DIDFuse</text>
<line x1="134.77" y1="509.58" x2="148.49" y2="509.58" stroke="#7D4E4E" stroke-width="0.45" stroke-opacity="0.58"/>
<polygon points="144.16,509.58 142.89,511.76 140.37,511.76 139.11,509.58 140.37,507.39 142.89,507.39" fill="#7D4E4E"/>
<text x="150.64" y="511.68" font-size="6.24" fill="#1a1a1a">SwinFuse</text>
<line x1="175.71" y1="509.58" x2="189.43" y2="509.58" stroke="#8E8E00" stroke-width="0.45" stroke-opacity="0.58"/>
<polygon points="182.57,507.29 183.16,508.76 184.74,508.87 183.53,509.89 183.91,511.43 182.57,510.59 181.23,511.43 181.61,509.89 180.40,508.87 181.98,508.76" fill="#8E8E00"/>
<text x="191.58" y="511.68" font-size="6.24" fill="#1a1a1a">MUFusion</text>
<line x1="222.28" y1="509.58" x2="236.00" y2="509.58" stroke="#FB6501" stroke-width="0.45" stroke-opacity="0.58"/>
<polygon points="229.14,506.93 231.66,508.76 230.70,511.72 227.59,511.72 226.62,508.76" fill="#FB6501"/>
<text x="238.15" y="511.68" font-size="6.24" fill="#1a1a1a">DCF</text>
<text x="118.65" y="729.70" font-size="14.3" fill="#111" stroke-width="0.1" textLength="38.5" lengthAdjust="spacingAndGlyphs">(<tspan font-weight="bold">e</tspan>) EN</text></g>
</svg>
</body></html>
